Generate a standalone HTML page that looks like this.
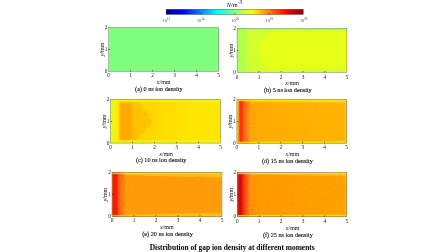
<!DOCTYPE html><html><head><meta charset="utf-8"><title>Distribution of gap ion density at different moments</title>
<style>html,body{margin:0;padding:0;background:#fff;}svg{display:block;}text{font-family:"Liberation Serif",serif;fill:#111;}</style></head><body>
<svg width="448" height="252" viewBox="0 0 448 252">
<defs><linearGradient id="jet" x1="0" x2="1" y1="0" y2="0">
<stop offset="0" stop-color="#000080"/>
<stop offset="0.125" stop-color="#0000ff"/>
<stop offset="0.375" stop-color="#00ffff"/>
<stop offset="0.5" stop-color="#80ff80"/>
<stop offset="0.625" stop-color="#ffff00"/>
<stop offset="0.875" stop-color="#ff0000"/>
<stop offset="1" stop-color="#800000"/>
</linearGradient>
<linearGradient id="fc" x1="0" x2="1" y1="0" y2="0"><stop offset="0" stop-color="#ffd000" stop-opacity="1"/><stop offset="0.5" stop-color="#ffd800" stop-opacity="0.9"/><stop offset="1" stop-color="#ffd800" stop-opacity="0"/></linearGradient>
<linearGradient id="ff" x1="0" x2="1" y1="0" y2="0"><stop offset="0" stop-color="#ff8c00" stop-opacity="0.45"/><stop offset="0.5" stop-color="#ff8c00" stop-opacity="0.25"/><stop offset="1" stop-color="#ff8c00" stop-opacity="0"/></linearGradient>
<linearGradient id="fd" x1="0" x2="1" y1="0" y2="0"><stop offset="0" stop-color="#ffa600" stop-opacity="0.7"/><stop offset="1" stop-color="#ffa600" stop-opacity="0"/></linearGradient>
<filter id="bl" x="-20%" y="-20%" width="140%" height="140%"><feGaussianBlur stdDeviation="0.9"/></filter>
<filter id="bm" x="-20%" y="-20%" width="140%" height="140%"><feGaussianBlur stdDeviation="0.75"/></filter>
<filter id="bb" x="-20%" y="-20%" width="140%" height="140%"><feGaussianBlur stdDeviation="1.4"/></filter>
<filter id="bs" x="-20%" y="-20%" width="140%" height="140%"><feGaussianBlur stdDeviation="0.35"/></filter>
</defs>
<rect width="448" height="252" fill="#fff"/>
<rect x="166.1" y="9.3" width="137.1" height="5.1" fill="url(#jet)" stroke="#1a1a1a" stroke-width="0.35"/>
<text x="234.4" y="6.7" font-size="6.3" text-anchor="middle"><tspan font-style="italic">N</tspan>/m<tspan dy="-2.6" font-size="5.2">-3</tspan></text>
<text x="166.5" y="21.8" font-size="4.2" text-anchor="middle" style="fill:#444">10<tspan dy="-1.7" font-size="3.2">12</tspan></text>
<rect x="200.075" y="13.200000000000001" width="0.6" height="1.2" fill="#222"/>
<text x="200.775" y="21.8" font-size="4.2" text-anchor="middle" style="fill:#444">10<tspan dy="-1.7" font-size="3.2">14</tspan></text>
<rect x="234.34999999999997" y="13.200000000000001" width="0.6" height="1.2" fill="#222"/>
<text x="235.04999999999998" y="21.8" font-size="4.2" text-anchor="middle" style="fill:#444">10<tspan dy="-1.7" font-size="3.2">16</tspan></text>
<rect x="268.62499999999994" y="13.200000000000001" width="0.6" height="1.2" fill="#222"/>
<text x="269.32499999999993" y="21.8" font-size="4.2" text-anchor="middle" style="fill:#444">10<tspan dy="-1.7" font-size="3.2">18</tspan></text>
<text x="303.59999999999997" y="21.8" font-size="4.2" text-anchor="middle" style="fill:#444">10<tspan dy="-1.7" font-size="3.2">20</tspan></text>
<clipPath id="c1"><rect x="108.7" y="27.5" width="109.99999999999999" height="43.900000000000006"/></clipPath>
<rect x="108.7" y="27.5" width="109.99999999999999" height="43.900000000000006" fill="#80ff7e"/>
<g clip-path="url(#c1)">
</g>
<rect x="108.7" y="27.5" width="109.99999999999999" height="43.900000000000006" fill="none" stroke="#505050" stroke-width="0.45" stroke-opacity="0.85"/>
<text x="108.70" y="77.2" font-size="5.3" text-anchor="middle">0</text>
<rect x="130.40" y="70.10000000000001" width="0.6" height="1.3" fill="#222"/>
<text x="130.70" y="77.2" font-size="5.3" text-anchor="middle">1</text>
<rect x="152.40" y="70.10000000000001" width="0.6" height="1.3" fill="#222"/>
<text x="152.70" y="77.2" font-size="5.3" text-anchor="middle">2</text>
<rect x="174.40" y="70.10000000000001" width="0.6" height="1.3" fill="#222"/>
<text x="174.70" y="77.2" font-size="5.3" text-anchor="middle">3</text>
<rect x="196.40" y="70.10000000000001" width="0.6" height="1.3" fill="#222"/>
<text x="196.70" y="77.2" font-size="5.3" text-anchor="middle">4</text>
<text x="218.70" y="77.2" font-size="5.3" text-anchor="middle">5</text>
<text x="107.5" y="73.00" font-size="5.3" text-anchor="end">0</text>
<rect x="108.7" y="49.15" width="1.3" height="0.6" fill="#222"/>
<text x="107.5" y="51.05" font-size="5.3" text-anchor="end">1</text>
<text x="107.5" y="29.10" font-size="5.3" text-anchor="end">2</text>
<text transform="translate(104.10000000000001,49.45) rotate(-90)" font-size="6" text-anchor="middle"><tspan font-style="italic">y</tspan>/mm</text>
<text x="163.7" y="83.9" font-size="6" text-anchor="middle"><tspan font-style="italic">x</tspan>/mm</text>
<text x="158.8" y="91.0" font-size="6.2" text-anchor="middle" stroke="#111" stroke-width="0.12">(a) 0 ns ion density</text>
<clipPath id="c2"><rect x="237.1" y="28.6" width="109.79999999999998" height="43.699999999999996"/></clipPath>
<rect x="237.1" y="28.6" width="109.79999999999998" height="43.699999999999996" fill="#d2ff2e"/>
<g clip-path="url(#c2)">
<g filter="url(#bm)">
<path d="M273.1,31.8 L349.9,30.400000000000002 L349.9,68.7 L271.1,69.5 C255.1,69.3 255.1,32.6 273.1,31.8 Z" fill="#e6ff18"/>
<rect x="234.1" y="25.6" width="12.6" height="49.699999999999996" fill="#b0ff50"/>
</g>
<g filter="url(#bs)">
<rect x="261.0" y="52.1" width="1" height="1" fill="#d2ff2e" opacity="0.8"/>
<rect x="262.1" y="54.4" width="1" height="1" fill="#d2ff2e" opacity="0.8"/>
<rect x="264.1" y="34.1" width="1" height="1" fill="#d2ff2e" opacity="0.8"/>
<rect x="259.2" y="63.2" width="1" height="1" fill="#d2ff2e" opacity="0.8"/>
<rect x="261.2" y="40.4" width="1" height="1" fill="#d2ff2e" opacity="0.8"/>
<rect x="267.1" y="49.3" width="1" height="1" fill="#d2ff2e" opacity="0.8"/>
<rect x="265.8" y="49.6" width="1" height="1" fill="#d2ff2e" opacity="0.8"/>
<rect x="264.2" y="37.3" width="1" height="1" fill="#d2ff2e" opacity="0.8"/>
<rect x="264.2" y="64.3" width="1" height="1" fill="#d2ff2e" opacity="0.8"/>
<rect x="263.3" y="59.5" width="1" height="1" fill="#d2ff2e" opacity="0.8"/>
<rect x="264.5" y="34.0" width="1" height="1" fill="#d2ff2e" opacity="0.8"/>
<rect x="265.2" y="53.9" width="1" height="1" fill="#d2ff2e" opacity="0.8"/>
<rect x="261.5" y="32.8" width="1" height="1" fill="#d2ff2e" opacity="0.8"/>
<rect x="266.0" y="49.4" width="1" height="1" fill="#d2ff2e" opacity="0.8"/>
<rect x="264.9" y="64.7" width="1" height="1" fill="#d2ff2e" opacity="0.8"/>
<rect x="264.8" y="66.3" width="1" height="1" fill="#d2ff2e" opacity="0.8"/>
<rect x="262.3" y="61.8" width="1" height="1" fill="#d2ff2e" opacity="0.8"/>
<rect x="262.7" y="66.9" width="1" height="1" fill="#d2ff2e" opacity="0.8"/>
<rect x="266.1" y="35.3" width="1" height="1" fill="#d2ff2e" opacity="0.8"/>
<rect x="260.2" y="39.8" width="1" height="1" fill="#d2ff2e" opacity="0.8"/>
<rect x="266.8" y="48.0" width="1" height="1" fill="#d2ff2e" opacity="0.8"/>
<rect x="264.1" y="42.9" width="1" height="1" fill="#d2ff2e" opacity="0.8"/>
<rect x="263.2" y="46.1" width="1" height="1" fill="#d2ff2e" opacity="0.8"/>
<rect x="261.9" y="53.7" width="1" height="1" fill="#d2ff2e" opacity="0.8"/>
<rect x="263.8" y="65.7" width="1" height="1" fill="#d2ff2e" opacity="0.8"/>
<rect x="264.6" y="66.6" width="1" height="1" fill="#d2ff2e" opacity="0.8"/>
<rect x="266.0" y="69.0" width="1" height="1" fill="#d2ff2e" opacity="0.8"/>
<rect x="264.5" y="37.7" width="1" height="1" fill="#d2ff2e" opacity="0.8"/>
<rect x="266.0" y="68.0" width="1" height="1" fill="#d2ff2e" opacity="0.8"/>
<rect x="266.3" y="53.1" width="1" height="1" fill="#d2ff2e" opacity="0.8"/>
<rect x="264.8" y="39.6" width="1" height="1" fill="#d2ff2e" opacity="0.8"/>
<rect x="265.8" y="53.2" width="1" height="1" fill="#d2ff2e" opacity="0.8"/>
<rect x="261.4" y="34.0" width="1" height="1" fill="#d2ff2e" opacity="0.8"/>
<rect x="265.9" y="68.9" width="1" height="1" fill="#d2ff2e" opacity="0.8"/>
<rect x="259.8" y="61.8" width="1" height="1" fill="#d2ff2e" opacity="0.8"/>
<rect x="262.4" y="37.3" width="1" height="1" fill="#d2ff2e" opacity="0.8"/>
<rect x="261.5" y="60.6" width="1" height="1" fill="#d2ff2e" opacity="0.8"/>
<rect x="266.1" y="33.3" width="1" height="1" fill="#d2ff2e" opacity="0.8"/>
<rect x="264.0" y="33.3" width="1" height="1" fill="#d2ff2e" opacity="0.8"/>
<rect x="264.8" y="44.1" width="1" height="1" fill="#d2ff2e" opacity="0.8"/>
<rect x="266.1" y="68.6" width="1" height="1" fill="#d2ff2e" opacity="0.8"/>
<rect x="263.1" y="69.2" width="1" height="1" fill="#d2ff2e" opacity="0.8"/>
<rect x="261.6" y="34.5" width="1" height="1" fill="#d2ff2e" opacity="0.8"/>
<rect x="263.9" y="32.8" width="1" height="1" fill="#d2ff2e" opacity="0.8"/>
<rect x="260.7" y="47.0" width="1" height="1" fill="#d2ff2e" opacity="0.8"/>
<rect x="264.0" y="37.5" width="1" height="1" fill="#d2ff2e" opacity="0.8"/>
<rect x="259.4" y="64.3" width="1" height="1" fill="#d2ff2e" opacity="0.8"/>
<rect x="261.6" y="67.7" width="1" height="1" fill="#d2ff2e" opacity="0.8"/>
<rect x="266.3" y="45.8" width="1" height="1" fill="#d2ff2e" opacity="0.8"/>
<rect x="262.8" y="51.2" width="1" height="1" fill="#d2ff2e" opacity="0.8"/>
<rect x="264.3" y="54.1" width="1" height="1" fill="#d2ff2e" opacity="0.8"/>
<rect x="263.6" y="55.0" width="1" height="1" fill="#d2ff2e" opacity="0.8"/>
<rect x="266.6" y="50.7" width="1" height="1" fill="#d2ff2e" opacity="0.8"/>
<rect x="262.5" y="58.8" width="1" height="1" fill="#d2ff2e" opacity="0.8"/>
<rect x="261.0" y="43.0" width="1" height="1" fill="#d2ff2e" opacity="0.8"/>
<rect x="266.9" y="51.2" width="1" height="1" fill="#d2ff2e" opacity="0.8"/>
<rect x="263.5" y="32.0" width="1" height="1" fill="#d2ff2e" opacity="0.8"/>
<rect x="262.4" y="53.5" width="1" height="1" fill="#d2ff2e" opacity="0.8"/>
<rect x="259.3" y="54.8" width="1" height="1" fill="#d2ff2e" opacity="0.8"/>
<rect x="264.2" y="33.9" width="1" height="1" fill="#d2ff2e" opacity="0.8"/>
<rect x="258.2" y="49.5" width="1" height="1" fill="#e6ff18" opacity="0.8"/>
<rect x="258.5" y="46.4" width="1" height="1" fill="#e6ff18" opacity="0.8"/>
<rect x="258.6" y="57.0" width="1" height="1" fill="#e6ff18" opacity="0.8"/>
<rect x="255.2" y="38.3" width="1" height="1" fill="#e6ff18" opacity="0.8"/>
<rect x="258.5" y="63.3" width="1" height="1" fill="#e6ff18" opacity="0.8"/>
<rect x="256.4" y="49.2" width="1" height="1" fill="#e6ff18" opacity="0.8"/>
<rect x="258.1" y="45.5" width="1" height="1" fill="#e6ff18" opacity="0.8"/>
<rect x="256.9" y="45.3" width="1" height="1" fill="#e6ff18" opacity="0.8"/>
<rect x="256.9" y="53.1" width="1" height="1" fill="#e6ff18" opacity="0.8"/>
<rect x="256.6" y="47.0" width="1" height="1" fill="#e6ff18" opacity="0.8"/>
<rect x="259.0" y="37.3" width="1" height="1" fill="#e6ff18" opacity="0.8"/>
<rect x="257.9" y="57.0" width="1" height="1" fill="#e6ff18" opacity="0.8"/>
<rect x="256.7" y="42.8" width="1" height="1" fill="#e6ff18" opacity="0.8"/>
<rect x="259.1" y="43.2" width="1" height="1" fill="#e6ff18" opacity="0.8"/>
<rect x="256.0" y="48.7" width="1" height="1" fill="#e6ff18" opacity="0.8"/>
<rect x="258.6" y="39.4" width="1" height="1" fill="#e6ff18" opacity="0.8"/>
<rect x="256.7" y="45.8" width="1" height="1" fill="#e6ff18" opacity="0.8"/>
<rect x="259.3" y="48.7" width="1" height="1" fill="#e6ff18" opacity="0.8"/>
<rect x="259.4" y="41.3" width="1" height="1" fill="#e6ff18" opacity="0.8"/>
<rect x="256.8" y="54.6" width="1" height="1" fill="#e6ff18" opacity="0.8"/>
<rect x="259.5" y="49.1" width="1" height="1" fill="#e6ff18" opacity="0.8"/>
<rect x="256.2" y="39.9" width="1" height="1" fill="#e6ff18" opacity="0.8"/>
<rect x="257.7" y="41.9" width="1" height="1" fill="#e6ff18" opacity="0.8"/>
<rect x="259.1" y="59.8" width="1" height="1" fill="#e6ff18" opacity="0.8"/>
<rect x="256.0" y="44.3" width="1" height="1" fill="#e6ff18" opacity="0.8"/>
<rect x="259.1" y="54.4" width="1" height="1" fill="#e6ff18" opacity="0.8"/>
<rect x="259.1" y="46.2" width="1" height="1" fill="#e6ff18" opacity="0.8"/>
<rect x="255.7" y="44.7" width="1" height="1" fill="#e6ff18" opacity="0.8"/>
<rect x="259.1" y="44.1" width="1" height="1" fill="#e6ff18" opacity="0.8"/>
<rect x="256.8" y="48.1" width="1" height="1" fill="#e6ff18" opacity="0.8"/>
<rect x="257.2" y="47.9" width="1" height="1" fill="#e6ff18" opacity="0.8"/>
<rect x="259.7" y="40.9" width="1" height="1" fill="#e6ff18" opacity="0.8"/>
<rect x="255.1" y="62.7" width="1" height="1" fill="#e6ff18" opacity="0.8"/>
<rect x="259.5" y="63.9" width="1" height="1" fill="#e6ff18" opacity="0.8"/>
<rect x="257.3" y="62.9" width="1" height="1" fill="#e6ff18" opacity="0.8"/>
<rect x="259.7" y="42.8" width="1" height="1" fill="#e6ff18" opacity="0.8"/>
<rect x="258.8" y="59.8" width="1" height="1" fill="#e6ff18" opacity="0.8"/>
<rect x="258.4" y="51.0" width="1" height="1" fill="#e6ff18" opacity="0.8"/>
<rect x="256.5" y="46.0" width="1" height="1" fill="#e6ff18" opacity="0.8"/>
<rect x="256.2" y="38.5" width="1" height="1" fill="#e6ff18" opacity="0.8"/>
<rect x="247.9" y="41.6" width="1" height="1" fill="#b0ff50" opacity="0.8"/>
<rect x="248.5" y="31.5" width="1" height="1" fill="#b0ff50" opacity="0.8"/>
<rect x="248.8" y="58.5" width="1" height="1" fill="#b0ff50" opacity="0.8"/>
<rect x="248.9" y="67.0" width="1" height="1" fill="#b0ff50" opacity="0.8"/>
<rect x="248.8" y="53.7" width="1" height="1" fill="#b0ff50" opacity="0.8"/>
<rect x="246.1" y="60.7" width="1" height="1" fill="#b0ff50" opacity="0.8"/>
<rect x="246.6" y="42.1" width="1" height="1" fill="#b0ff50" opacity="0.8"/>
<rect x="248.1" y="51.5" width="1" height="1" fill="#b0ff50" opacity="0.8"/>
<rect x="247.3" y="68.8" width="1" height="1" fill="#b0ff50" opacity="0.8"/>
<rect x="247.9" y="43.8" width="1" height="1" fill="#b0ff50" opacity="0.8"/>
<rect x="246.9" y="65.5" width="1" height="1" fill="#b0ff50" opacity="0.8"/>
<rect x="247.5" y="62.2" width="1" height="1" fill="#b0ff50" opacity="0.8"/>
<rect x="247.2" y="37.8" width="1" height="1" fill="#b0ff50" opacity="0.8"/>
<rect x="247.7" y="63.7" width="1" height="1" fill="#b0ff50" opacity="0.8"/>
<rect x="246.6" y="62.6" width="1" height="1" fill="#b0ff50" opacity="0.8"/>
<rect x="248.9" y="63.2" width="1" height="1" fill="#b0ff50" opacity="0.8"/>
<rect x="248.6" y="29.9" width="1" height="1" fill="#b0ff50" opacity="0.8"/>
<rect x="248.0" y="65.6" width="1" height="1" fill="#b0ff50" opacity="0.8"/>
<rect x="246.2" y="40.9" width="1" height="1" fill="#b0ff50" opacity="0.8"/>
<rect x="246.9" y="51.6" width="1" height="1" fill="#b0ff50" opacity="0.8"/>
<rect x="247.4" y="49.3" width="1" height="1" fill="#b0ff50" opacity="0.8"/>
<rect x="248.4" y="29.7" width="1" height="1" fill="#b0ff50" opacity="0.8"/>
<rect x="246.3" y="34.9" width="1" height="1" fill="#b0ff50" opacity="0.8"/>
<rect x="246.5" y="32.5" width="1" height="1" fill="#b0ff50" opacity="0.8"/>
<rect x="249.0" y="65.2" width="1" height="1" fill="#b0ff50" opacity="0.8"/>
<rect x="246.4" y="50.5" width="1" height="1" fill="#b0ff50" opacity="0.8"/>
<rect x="247.0" y="42.7" width="1" height="1" fill="#b0ff50" opacity="0.8"/>
<rect x="247.2" y="56.6" width="1" height="1" fill="#b0ff50" opacity="0.8"/>
<rect x="247.9" y="44.6" width="1" height="1" fill="#b0ff50" opacity="0.8"/>
<rect x="246.7" y="43.3" width="1" height="1" fill="#b0ff50" opacity="0.8"/>
<rect x="244.4" y="52.8" width="1" height="1" fill="#d2ff2e" opacity="0.8"/>
<rect x="246.0" y="45.5" width="1" height="1" fill="#d2ff2e" opacity="0.8"/>
<rect x="244.3" y="37.0" width="1" height="1" fill="#d2ff2e" opacity="0.8"/>
<rect x="245.1" y="54.8" width="1" height="1" fill="#d2ff2e" opacity="0.8"/>
<rect x="246.1" y="45.5" width="1" height="1" fill="#d2ff2e" opacity="0.8"/>
<rect x="246.2" y="55.6" width="1" height="1" fill="#d2ff2e" opacity="0.8"/>
<rect x="245.2" y="45.1" width="1" height="1" fill="#d2ff2e" opacity="0.8"/>
<rect x="245.4" y="58.9" width="1" height="1" fill="#d2ff2e" opacity="0.8"/>
<rect x="245.2" y="58.5" width="1" height="1" fill="#d2ff2e" opacity="0.8"/>
<rect x="245.3" y="39.8" width="1" height="1" fill="#d2ff2e" opacity="0.8"/>
<rect x="245.5" y="58.6" width="1" height="1" fill="#d2ff2e" opacity="0.8"/>
<rect x="244.3" y="47.3" width="1" height="1" fill="#d2ff2e" opacity="0.8"/>
<rect x="245.2" y="66.3" width="1" height="1" fill="#d2ff2e" opacity="0.8"/>
<rect x="246.5" y="45.2" width="1" height="1" fill="#d2ff2e" opacity="0.8"/>
<rect x="246.4" y="62.6" width="1" height="1" fill="#d2ff2e" opacity="0.8"/>
<rect x="244.8" y="49.0" width="1" height="1" fill="#d2ff2e" opacity="0.8"/>
<rect x="244.4" y="63.5" width="1" height="1" fill="#d2ff2e" opacity="0.8"/>
<rect x="245.8" y="66.6" width="1" height="1" fill="#d2ff2e" opacity="0.8"/>
<rect x="246.2" y="57.4" width="1" height="1" fill="#d2ff2e" opacity="0.8"/>
<rect x="246.0" y="53.1" width="1" height="1" fill="#d2ff2e" opacity="0.8"/>
</g>
<rect x="237.1" y="28.6" width="109.79999999999998" height="1.5" fill="#a0ff60" opacity="0.8"/>
</g>
<rect x="237.1" y="28.6" width="109.79999999999998" height="43.699999999999996" fill="none" stroke="#505050" stroke-width="0.45" stroke-opacity="0.85"/>
<text x="237.10" y="78.6" font-size="5.3" text-anchor="middle">0</text>
<rect x="258.76" y="71.0" width="0.6" height="1.3" fill="#222"/>
<text x="259.06" y="78.6" font-size="5.3" text-anchor="middle">1</text>
<rect x="280.72" y="71.0" width="0.6" height="1.3" fill="#222"/>
<text x="281.02" y="78.6" font-size="5.3" text-anchor="middle">2</text>
<rect x="302.68" y="71.0" width="0.6" height="1.3" fill="#222"/>
<text x="302.98" y="78.6" font-size="5.3" text-anchor="middle">3</text>
<rect x="324.64" y="71.0" width="0.6" height="1.3" fill="#222"/>
<text x="324.94" y="78.6" font-size="5.3" text-anchor="middle">4</text>
<text x="346.90" y="78.6" font-size="5.3" text-anchor="middle">5</text>
<text x="235.9" y="73.90" font-size="5.3" text-anchor="end">0</text>
<rect x="237.1" y="50.15" width="1.3" height="0.6" fill="#222"/>
<text x="235.9" y="52.05" font-size="5.3" text-anchor="end">1</text>
<text x="235.9" y="30.20" font-size="5.3" text-anchor="end">2</text>
<text transform="translate(232.5,50.45) rotate(-90)" font-size="6" text-anchor="middle"><tspan font-style="italic">y</tspan>/mm</text>
<text x="292" y="85.0" font-size="6" text-anchor="middle"><tspan font-style="italic">x</tspan>/mm</text>
<text x="287.8" y="91.9" font-size="6.2" text-anchor="middle" stroke="#111" stroke-width="0.12">(b) 5 ns ion density</text>
<clipPath id="c3"><rect x="110.7" y="99.5" width="109.89999999999999" height="43.599999999999994"/></clipPath>
<rect x="110.7" y="99.5" width="109.89999999999999" height="43.599999999999994" fill="#ffe600"/>
<g clip-path="url(#c3)">
<g filter="url(#bl)">
<rect x="118.7" y="96.5" width="75" height="49.599999999999994" fill="url(#fc)"/>
<rect x="107.7" y="96.5" width="6" height="49.599999999999994" fill="#d8ff28"/>
<rect x="113.7" y="96.5" width="6" height="49.599999999999994" fill="#ffee00"/>
<path d="M119.3,102.0 L137.7,103.0 L144.7,109.5 L150.7,116.5 L151.7,123.5 L143.7,132.5 L136.7,140.6 L119.3,141.1 Z" fill="#ffc000"/>
<rect x="119.3" y="102.5" width="12.2" height="38.39999999999999" rx="2.5" fill="#ffa800"/>
</g>
<g filter="url(#bs)">
<rect x="146.1" y="123.7" width="1" height="1" fill="#ffd000" opacity="0.8"/>
<rect x="144.8" y="111.5" width="1" height="1" fill="#ffd000" opacity="0.8"/>
<rect x="155.5" y="108.7" width="1" height="1" fill="#ffd000" opacity="0.8"/>
<rect x="146.0" y="110.2" width="1" height="1" fill="#ffd000" opacity="0.8"/>
<rect x="157.0" y="112.4" width="1" height="1" fill="#ffd000" opacity="0.8"/>
<rect x="145.0" y="130.7" width="1" height="1" fill="#ffd000" opacity="0.8"/>
<rect x="146.4" y="130.8" width="1" height="1" fill="#ffd000" opacity="0.8"/>
<rect x="154.1" y="130.6" width="1" height="1" fill="#ffd000" opacity="0.8"/>
<rect x="158.0" y="123.5" width="1" height="1" fill="#ffd000" opacity="0.8"/>
<rect x="155.9" y="108.5" width="1" height="1" fill="#ffd000" opacity="0.8"/>
<rect x="155.4" y="121.6" width="1" height="1" fill="#ffd000" opacity="0.8"/>
<rect x="154.7" y="110.4" width="1" height="1" fill="#ffd000" opacity="0.8"/>
<rect x="155.2" y="133.3" width="1" height="1" fill="#ffd000" opacity="0.8"/>
<rect x="145.6" y="116.4" width="1" height="1" fill="#ffd000" opacity="0.8"/>
<rect x="152.6" y="130.4" width="1" height="1" fill="#ffd000" opacity="0.8"/>
<rect x="148.1" y="112.5" width="1" height="1" fill="#ffd000" opacity="0.8"/>
<rect x="148.2" y="124.5" width="1" height="1" fill="#ffd000" opacity="0.8"/>
<rect x="155.2" y="118.4" width="1" height="1" fill="#ffd000" opacity="0.8"/>
<rect x="149.8" y="118.4" width="1" height="1" fill="#ffd000" opacity="0.8"/>
<rect x="149.6" y="119.0" width="1" height="1" fill="#ffd000" opacity="0.8"/>
<rect x="145.9" y="121.3" width="1" height="1" fill="#ffd000" opacity="0.8"/>
<rect x="158.3" y="118.9" width="1" height="1" fill="#ffd000" opacity="0.8"/>
<rect x="155.2" y="111.9" width="1" height="1" fill="#ffd000" opacity="0.8"/>
<rect x="154.4" y="128.4" width="1" height="1" fill="#ffd000" opacity="0.8"/>
<rect x="154.1" y="121.8" width="1" height="1" fill="#ffd000" opacity="0.8"/>
<rect x="151.5" y="125.2" width="1" height="1" fill="#ffd000" opacity="0.8"/>
<rect x="157.3" y="111.6" width="1" height="1" fill="#ffd000" opacity="0.8"/>
<rect x="146.0" y="128.1" width="1" height="1" fill="#ffd000" opacity="0.8"/>
<rect x="157.5" y="121.8" width="1" height="1" fill="#ffd000" opacity="0.8"/>
<rect x="150.9" y="127.3" width="1" height="1" fill="#ffd000" opacity="0.8"/>
<rect x="147.3" y="114.9" width="1" height="1" fill="#ffd000" opacity="0.8"/>
<rect x="147.5" y="123.7" width="1" height="1" fill="#ffd000" opacity="0.8"/>
<rect x="149.1" y="113.9" width="1" height="1" fill="#ffd000" opacity="0.8"/>
<rect x="154.4" y="133.8" width="1" height="1" fill="#ffd000" opacity="0.8"/>
<rect x="148.8" y="127.0" width="1" height="1" fill="#ffd000" opacity="0.8"/>
<rect x="150.5" y="131.1" width="1" height="1" fill="#ffd000" opacity="0.8"/>
<rect x="152.9" y="114.9" width="1" height="1" fill="#ffd000" opacity="0.8"/>
<rect x="147.7" y="108.1" width="1" height="1" fill="#ffd000" opacity="0.8"/>
<rect x="151.4" y="118.1" width="1" height="1" fill="#ffd000" opacity="0.8"/>
<rect x="147.1" y="117.4" width="1" height="1" fill="#ffd000" opacity="0.8"/>
<rect x="149.2" y="128.9" width="1" height="1" fill="#ffd000" opacity="0.8"/>
<rect x="146.7" y="134.9" width="1" height="1" fill="#ffd000" opacity="0.8"/>
<rect x="151.4" y="124.0" width="1" height="1" fill="#ffd000" opacity="0.8"/>
<rect x="151.3" y="130.5" width="1" height="1" fill="#ffd000" opacity="0.8"/>
<rect x="156.2" y="122.9" width="1" height="1" fill="#ffd000" opacity="0.8"/>
<rect x="151.4" y="127.4" width="1" height="1" fill="#ffd000" opacity="0.8"/>
<rect x="156.7" y="118.5" width="1" height="1" fill="#ffd000" opacity="0.8"/>
<rect x="155.0" y="134.0" width="1" height="1" fill="#ffd000" opacity="0.8"/>
<rect x="151.2" y="113.8" width="1" height="1" fill="#ffd000" opacity="0.8"/>
<rect x="148.0" y="127.3" width="1" height="1" fill="#ffd000" opacity="0.8"/>
<rect x="147.5" y="138.5" width="1" height="1" fill="#ffe200" opacity="0.7"/>
<rect x="149.8" y="111.6" width="1" height="1" fill="#ffe200" opacity="0.7"/>
<rect x="141.2" y="112.2" width="1" height="1" fill="#ffe200" opacity="0.7"/>
<rect x="141.1" y="129.0" width="1" height="1" fill="#ffe200" opacity="0.7"/>
<rect x="149.9" y="136.3" width="1" height="1" fill="#ffe200" opacity="0.7"/>
<rect x="142.0" y="135.0" width="1" height="1" fill="#ffe200" opacity="0.7"/>
<rect x="142.8" y="118.4" width="1" height="1" fill="#ffe200" opacity="0.7"/>
<rect x="148.2" y="105.7" width="1" height="1" fill="#ffe200" opacity="0.7"/>
<rect x="139.9" y="133.9" width="1" height="1" fill="#ffe200" opacity="0.7"/>
<rect x="142.5" y="115.9" width="1" height="1" fill="#ffe200" opacity="0.7"/>
<rect x="146.2" y="127.9" width="1" height="1" fill="#ffe200" opacity="0.7"/>
<rect x="138.8" y="115.1" width="1" height="1" fill="#ffe200" opacity="0.7"/>
<rect x="144.4" y="120.8" width="1" height="1" fill="#ffe200" opacity="0.7"/>
<rect x="141.4" y="124.5" width="1" height="1" fill="#ffe200" opacity="0.7"/>
<rect x="151.1" y="117.2" width="1" height="1" fill="#ffe200" opacity="0.7"/>
<rect x="145.8" y="107.0" width="1" height="1" fill="#ffe200" opacity="0.7"/>
<rect x="142.3" y="127.5" width="1" height="1" fill="#ffe200" opacity="0.7"/>
<rect x="140.2" y="135.9" width="1" height="1" fill="#ffe200" opacity="0.7"/>
<rect x="150.5" y="106.1" width="1" height="1" fill="#ffe200" opacity="0.7"/>
<rect x="150.9" y="116.6" width="1" height="1" fill="#ffe200" opacity="0.7"/>
<rect x="148.7" y="131.0" width="1" height="1" fill="#ffe200" opacity="0.7"/>
<rect x="142.5" y="127.9" width="1" height="1" fill="#ffe200" opacity="0.7"/>
<rect x="147.2" y="132.8" width="1" height="1" fill="#ffe200" opacity="0.7"/>
<rect x="142.2" y="130.9" width="1" height="1" fill="#ffe200" opacity="0.7"/>
<rect x="151.2" y="127.8" width="1" height="1" fill="#ffe200" opacity="0.7"/>
<rect x="145.7" y="106.8" width="1" height="1" fill="#ffe200" opacity="0.7"/>
<rect x="145.1" y="115.7" width="1" height="1" fill="#ffe200" opacity="0.7"/>
<rect x="148.0" y="128.0" width="1" height="1" fill="#ffe200" opacity="0.7"/>
<rect x="146.1" y="109.3" width="1" height="1" fill="#ffe200" opacity="0.7"/>
<rect x="147.1" y="126.2" width="1" height="1" fill="#ffe200" opacity="0.7"/>
<rect x="141.0" y="136.0" width="1" height="1" fill="#ffe200" opacity="0.7"/>
<rect x="147.2" y="107.1" width="1" height="1" fill="#ffe200" opacity="0.7"/>
<rect x="150.8" y="107.8" width="1" height="1" fill="#ffe200" opacity="0.7"/>
<rect x="143.0" y="129.6" width="1" height="1" fill="#ffe200" opacity="0.7"/>
<rect x="146.5" y="123.4" width="1" height="1" fill="#ffe200" opacity="0.7"/>
<rect x="147.1" y="119.7" width="1" height="1" fill="#ffe200" opacity="0.7"/>
<rect x="142.8" y="109.1" width="1" height="1" fill="#ffe200" opacity="0.7"/>
<rect x="139.6" y="129.4" width="1" height="1" fill="#ffe200" opacity="0.7"/>
<rect x="148.5" y="122.9" width="1" height="1" fill="#ffe200" opacity="0.7"/>
<rect x="148.3" y="116.0" width="1" height="1" fill="#ffe200" opacity="0.7"/>
<rect x="171.0" y="116.9" width="1" height="1" fill="#ffd800" opacity="0.7"/>
<rect x="183.2" y="104.1" width="1" height="1" fill="#ffd800" opacity="0.7"/>
<rect x="175.8" y="111.8" width="1" height="1" fill="#ffd800" opacity="0.7"/>
<rect x="181.1" y="115.8" width="1" height="1" fill="#ffd800" opacity="0.7"/>
<rect x="172.4" y="117.7" width="1" height="1" fill="#ffd800" opacity="0.7"/>
<rect x="176.5" y="131.5" width="1" height="1" fill="#ffd800" opacity="0.7"/>
<rect x="172.8" y="134.3" width="1" height="1" fill="#ffd800" opacity="0.7"/>
<rect x="167.9" y="112.7" width="1" height="1" fill="#ffd800" opacity="0.7"/>
<rect x="167.7" y="106.7" width="1" height="1" fill="#ffd800" opacity="0.7"/>
<rect x="181.3" y="129.8" width="1" height="1" fill="#ffd800" opacity="0.7"/>
<rect x="169.4" y="109.6" width="1" height="1" fill="#ffd800" opacity="0.7"/>
<rect x="174.0" y="130.4" width="1" height="1" fill="#ffd800" opacity="0.7"/>
<rect x="182.0" y="130.7" width="1" height="1" fill="#ffd800" opacity="0.7"/>
<rect x="177.5" y="108.0" width="1" height="1" fill="#ffd800" opacity="0.7"/>
<rect x="173.7" y="109.8" width="1" height="1" fill="#ffd800" opacity="0.7"/>
<rect x="176.3" y="123.9" width="1" height="1" fill="#ffd800" opacity="0.7"/>
<rect x="169.7" y="111.9" width="1" height="1" fill="#ffd800" opacity="0.7"/>
<rect x="181.3" y="103.6" width="1" height="1" fill="#ffd800" opacity="0.7"/>
<rect x="181.8" y="136.0" width="1" height="1" fill="#ffd800" opacity="0.7"/>
<rect x="184.7" y="116.9" width="1" height="1" fill="#ffd800" opacity="0.7"/>
<rect x="176.8" y="124.4" width="1" height="1" fill="#ffd800" opacity="0.7"/>
<rect x="178.4" y="139.2" width="1" height="1" fill="#ffd800" opacity="0.7"/>
<rect x="179.4" y="113.8" width="1" height="1" fill="#ffd800" opacity="0.7"/>
<rect x="182.9" y="120.7" width="1" height="1" fill="#ffd800" opacity="0.7"/>
<rect x="177.7" y="129.8" width="1" height="1" fill="#ffd800" opacity="0.7"/>
<rect x="165.7" y="131.5" width="1" height="1" fill="#ffd800" opacity="0.7"/>
<rect x="178.9" y="121.0" width="1" height="1" fill="#ffd800" opacity="0.7"/>
<rect x="176.2" y="119.8" width="1" height="1" fill="#ffd800" opacity="0.7"/>
<rect x="169.6" y="122.4" width="1" height="1" fill="#ffd800" opacity="0.7"/>
<rect x="166.4" y="121.3" width="1" height="1" fill="#ffd800" opacity="0.7"/>
<rect x="178.6" y="119.2" width="1" height="1" fill="#ffd800" opacity="0.7"/>
<rect x="177.0" y="138.6" width="1" height="1" fill="#ffd800" opacity="0.7"/>
<rect x="183.5" y="107.6" width="1" height="1" fill="#ffd800" opacity="0.7"/>
<rect x="181.5" y="125.9" width="1" height="1" fill="#ffd800" opacity="0.7"/>
<rect x="166.7" y="116.0" width="1" height="1" fill="#ffd800" opacity="0.7"/>
<rect x="170.4" y="105.4" width="1" height="1" fill="#ffd800" opacity="0.7"/>
<rect x="176.5" y="137.5" width="1" height="1" fill="#ffd800" opacity="0.7"/>
<rect x="172.2" y="135.2" width="1" height="1" fill="#ffd800" opacity="0.7"/>
<rect x="179.6" y="107.6" width="1" height="1" fill="#ffd800" opacity="0.7"/>
<rect x="182.9" y="125.1" width="1" height="1" fill="#ffd800" opacity="0.7"/>
<rect x="184.2" y="129.4" width="1" height="1" fill="#ffd800" opacity="0.7"/>
<rect x="180.5" y="115.4" width="1" height="1" fill="#ffd800" opacity="0.7"/>
<rect x="181.8" y="137.5" width="1" height="1" fill="#ffd800" opacity="0.7"/>
<rect x="182.9" y="118.9" width="1" height="1" fill="#ffd800" opacity="0.7"/>
<rect x="180.8" y="120.7" width="1" height="1" fill="#ffd800" opacity="0.7"/>
<rect x="167.9" y="104.1" width="1" height="1" fill="#ffd800" opacity="0.7"/>
<rect x="167.3" y="110.0" width="1" height="1" fill="#ffd800" opacity="0.7"/>
<rect x="168.9" y="121.2" width="1" height="1" fill="#ffd800" opacity="0.7"/>
<rect x="179.7" y="122.7" width="1" height="1" fill="#ffd800" opacity="0.7"/>
<rect x="174.1" y="126.9" width="1" height="1" fill="#ffd800" opacity="0.7"/>
<rect x="171.8" y="120.0" width="1" height="1" fill="#ffd800" opacity="0.7"/>
<rect x="180.8" y="117.6" width="1" height="1" fill="#ffd800" opacity="0.7"/>
<rect x="169.3" y="136.3" width="1" height="1" fill="#ffd800" opacity="0.7"/>
<rect x="180.1" y="116.3" width="1" height="1" fill="#ffd800" opacity="0.7"/>
<rect x="173.1" y="122.4" width="1" height="1" fill="#ffd800" opacity="0.7"/>
<rect x="177.6" y="110.9" width="1" height="1" fill="#ffd800" opacity="0.7"/>
<rect x="165.8" y="110.4" width="1" height="1" fill="#ffd800" opacity="0.7"/>
<rect x="181.4" y="107.9" width="1" height="1" fill="#ffd800" opacity="0.7"/>
<rect x="174.9" y="109.8" width="1" height="1" fill="#ffd800" opacity="0.7"/>
<rect x="169.9" y="108.9" width="1" height="1" fill="#ffd800" opacity="0.7"/>
</g>
<rect x="110.7" y="99.5" width="109.89999999999999" height="2.4" fill="#fff200" opacity="0.8"/>
<rect x="110.7" y="140.1" width="109.89999999999999" height="3.0" fill="#fff200" opacity="0.8"/>
<rect x="110.7" y="99.5" width="109.89999999999999" height="0.9" fill="#c8ff20" opacity="0.8"/>
<rect x="110.7" y="142.29999999999998" width="109.89999999999999" height="0.8" fill="#c8ff20" opacity="0.8"/>
</g>
<rect x="110.7" y="99.5" width="109.89999999999999" height="43.599999999999994" fill="none" stroke="#505050" stroke-width="0.45" stroke-opacity="0.85"/>
<text x="110.70" y="148.9" font-size="5.3" text-anchor="middle">0</text>
<rect x="132.38" y="141.79999999999998" width="0.6" height="1.3" fill="#222"/>
<text x="132.68" y="148.9" font-size="5.3" text-anchor="middle">1</text>
<rect x="154.36" y="141.79999999999998" width="0.6" height="1.3" fill="#222"/>
<text x="154.66" y="148.9" font-size="5.3" text-anchor="middle">2</text>
<rect x="176.34" y="141.79999999999998" width="0.6" height="1.3" fill="#222"/>
<text x="176.64" y="148.9" font-size="5.3" text-anchor="middle">3</text>
<rect x="198.32" y="141.79999999999998" width="0.6" height="1.3" fill="#222"/>
<text x="198.62" y="148.9" font-size="5.3" text-anchor="middle">4</text>
<text x="220.60" y="148.9" font-size="5.3" text-anchor="middle">5</text>
<text x="109.5" y="144.70" font-size="5.3" text-anchor="end">0</text>
<rect x="110.7" y="121.00" width="1.3" height="0.6" fill="#222"/>
<text x="109.5" y="122.90" font-size="5.3" text-anchor="end">1</text>
<text x="109.5" y="101.10" font-size="5.3" text-anchor="end">2</text>
<text transform="translate(106.10000000000001,121.3) rotate(-90)" font-size="6" text-anchor="middle"><tspan font-style="italic">y</tspan>/mm</text>
<text x="166.2" y="156.2" font-size="6" text-anchor="middle"><tspan font-style="italic">x</tspan>/mm</text>
<text x="161.2" y="162.1" font-size="6.2" text-anchor="middle" stroke="#111" stroke-width="0.12">(c) 10 ns ion density</text>
<linearGradient id="g1" gradientUnits="userSpaceOnUse" x1="236.9" x2="253.9" y1="0" y2="0"><stop offset="0.000" stop-color="#ffd800"/><stop offset="0.065" stop-color="#ffc400"/><stop offset="0.135" stop-color="#ff5c10"/><stop offset="0.200" stop-color="#ff3010"/><stop offset="0.306" stop-color="#ff3410"/><stop offset="0.382" stop-color="#ff5a10"/><stop offset="0.529" stop-color="#ff7c14"/><stop offset="0.735" stop-color="#ff9418"/><stop offset="1.000" stop-color="#ffb200" stop-opacity="0"/></linearGradient>
<clipPath id="c4"><rect x="236.9" y="99.7" width="109.70000000000002" height="43.499999999999986"/></clipPath>
<rect x="236.9" y="99.7" width="109.70000000000002" height="43.499999999999986" fill="#ffb200"/>
<g clip-path="url(#c4)">
<g filter="url(#bm)">
<rect x="248.9" y="103.7" width="70" height="36.499999999999986" fill="url(#fd)"/>
<path d="M236.9,96.7 L349.6,96.7 L349.6,103.10000000000001 L236.9,101.5 Z" fill="#ffcc20"/>
<path d="M236.9,146.2 L349.6,146.2 L349.6,140.6 L236.9,142.0 Z" fill="#ffc820"/>
<rect x="345.1" y="99.7" width="4" height="43.499999999999986" fill="#ffd020"/>
<rect x="233.9" y="96.7" width="20" height="49.499999999999986" fill="url(#g1)"/>
</g>
<g filter="url(#bs)">
<rect x="268.1" y="109.0" width="1" height="1" fill="#ff9c00" opacity="0.7"/>
<rect x="253.0" y="106.8" width="1" height="1" fill="#ff9c00" opacity="0.7"/>
<rect x="255.5" y="121.1" width="1" height="1" fill="#ff9c00" opacity="0.7"/>
<rect x="253.2" y="103.5" width="1" height="1" fill="#ff9c00" opacity="0.7"/>
<rect x="271.6" y="118.0" width="1" height="1" fill="#ff9c00" opacity="0.7"/>
<rect x="298.9" y="104.6" width="1" height="1" fill="#ff9c00" opacity="0.7"/>
<rect x="268.0" y="117.6" width="1" height="1" fill="#ff9c00" opacity="0.7"/>
<rect x="253.0" y="138.9" width="1" height="1" fill="#ff9c00" opacity="0.7"/>
<rect x="257.4" y="106.2" width="1" height="1" fill="#ff9c00" opacity="0.7"/>
<rect x="273.8" y="108.9" width="1" height="1" fill="#ff9c00" opacity="0.7"/>
<rect x="288.9" y="115.7" width="1" height="1" fill="#ff9c00" opacity="0.7"/>
<rect x="254.3" y="104.6" width="1" height="1" fill="#ff9c00" opacity="0.7"/>
<rect x="302.1" y="113.0" width="1" height="1" fill="#ff9c00" opacity="0.7"/>
<rect x="310.6" y="120.2" width="1" height="1" fill="#ff9c00" opacity="0.7"/>
<rect x="333.8" y="114.0" width="1" height="1" fill="#ff9c00" opacity="0.7"/>
<rect x="258.7" y="112.7" width="1" height="1" fill="#ff9c00" opacity="0.7"/>
<rect x="314.6" y="126.3" width="1" height="1" fill="#ff9c00" opacity="0.7"/>
<rect x="264.0" y="106.2" width="1" height="1" fill="#ff9c00" opacity="0.7"/>
<rect x="296.2" y="139.0" width="1" height="1" fill="#ff9c00" opacity="0.7"/>
<rect x="285.5" y="102.8" width="1" height="1" fill="#ff9c00" opacity="0.7"/>
<rect x="253.0" y="106.1" width="1" height="1" fill="#ff9c00" opacity="0.7"/>
<rect x="255.6" y="104.1" width="1" height="1" fill="#ff9c00" opacity="0.7"/>
<rect x="253.2" y="127.2" width="1" height="1" fill="#ff9c00" opacity="0.7"/>
<rect x="328.3" y="110.2" width="1" height="1" fill="#ff9c00" opacity="0.7"/>
<rect x="341.1" y="120.6" width="1" height="1" fill="#ff9c00" opacity="0.7"/>
<rect x="313.0" y="137.1" width="1" height="1" fill="#ff9c00" opacity="0.7"/>
<rect x="335.1" y="104.0" width="1" height="1" fill="#ff9c00" opacity="0.7"/>
<rect x="261.5" y="125.5" width="1" height="1" fill="#ff9c00" opacity="0.7"/>
<rect x="336.2" y="106.0" width="1" height="1" fill="#ff9c00" opacity="0.7"/>
<rect x="260.9" y="134.6" width="1" height="1" fill="#ff9c00" opacity="0.7"/>
<rect x="254.1" y="117.3" width="1" height="1" fill="#ff9c00" opacity="0.7"/>
<rect x="263.3" y="128.2" width="1" height="1" fill="#ff9c00" opacity="0.7"/>
<rect x="333.1" y="109.2" width="1" height="1" fill="#ff9c00" opacity="0.7"/>
<rect x="303.8" y="130.2" width="1" height="1" fill="#ff9c00" opacity="0.7"/>
<rect x="317.8" y="123.5" width="1" height="1" fill="#ff9c00" opacity="0.7"/>
<rect x="332.2" y="116.3" width="1" height="1" fill="#ff9c00" opacity="0.7"/>
<rect x="268.9" y="111.3" width="1" height="1" fill="#ff9c00" opacity="0.7"/>
<rect x="309.4" y="120.7" width="1" height="1" fill="#ff9c00" opacity="0.7"/>
<rect x="259.7" y="109.1" width="1" height="1" fill="#ff9c00" opacity="0.7"/>
<rect x="301.2" y="125.4" width="1" height="1" fill="#ff9c00" opacity="0.7"/>
<rect x="299.9" y="117.2" width="1" height="1" fill="#ff9c00" opacity="0.7"/>
<rect x="275.0" y="108.5" width="1" height="1" fill="#ff9c00" opacity="0.7"/>
<rect x="299.9" y="103.6" width="1" height="1" fill="#ff9c00" opacity="0.7"/>
<rect x="273.2" y="131.1" width="1" height="1" fill="#ff9c00" opacity="0.7"/>
<rect x="295.6" y="106.3" width="1" height="1" fill="#ff9c00" opacity="0.7"/>
<rect x="258.1" y="134.3" width="1" height="1" fill="#ff9c00" opacity="0.7"/>
<rect x="291.3" y="135.6" width="1" height="1" fill="#ff9c00" opacity="0.7"/>
<rect x="323.7" y="119.6" width="1" height="1" fill="#ff9c00" opacity="0.7"/>
<rect x="327.7" y="130.2" width="1" height="1" fill="#ff9c00" opacity="0.7"/>
<rect x="263.3" y="116.6" width="1" height="1" fill="#ff9c00" opacity="0.7"/>
<rect x="253.4" y="117.7" width="1" height="1" fill="#ff9c00" opacity="0.7"/>
<rect x="337.8" y="106.6" width="1" height="1" fill="#ff9c00" opacity="0.7"/>
<rect x="283.0" y="106.8" width="1" height="1" fill="#ff9c00" opacity="0.7"/>
<rect x="253.5" y="127.0" width="1" height="1" fill="#ff9c00" opacity="0.7"/>
<rect x="258.3" y="104.5" width="1" height="1" fill="#ff9c00" opacity="0.7"/>
<rect x="255.1" y="126.9" width="1" height="1" fill="#ff9c00" opacity="0.7"/>
<rect x="284.8" y="103.1" width="1" height="1" fill="#ff9c00" opacity="0.7"/>
<rect x="257.8" y="139.0" width="1" height="1" fill="#ff9c00" opacity="0.7"/>
<rect x="257.4" y="123.8" width="1" height="1" fill="#ff9c00" opacity="0.7"/>
<rect x="269.3" y="132.0" width="1" height="1" fill="#ff9c00" opacity="0.7"/>
<rect x="286.9" y="132.3" width="1" height="1" fill="#ff9c00" opacity="0.7"/>
<rect x="279.5" y="109.8" width="1" height="1" fill="#ff9c00" opacity="0.7"/>
<rect x="255.8" y="105.7" width="1" height="1" fill="#ff9c00" opacity="0.7"/>
<rect x="316.3" y="106.9" width="1" height="1" fill="#ff9c00" opacity="0.7"/>
<rect x="253.0" y="138.9" width="1" height="1" fill="#ff9c00" opacity="0.7"/>
<rect x="256.6" y="136.2" width="1" height="1" fill="#ff9c00" opacity="0.7"/>
<rect x="253.6" y="120.1" width="1" height="1" fill="#ff9c00" opacity="0.7"/>
<rect x="257.5" y="133.8" width="1" height="1" fill="#ff9c00" opacity="0.7"/>
<rect x="288.1" y="126.8" width="1" height="1" fill="#ff9c00" opacity="0.7"/>
<rect x="306.8" y="135.4" width="1" height="1" fill="#ff9c00" opacity="0.7"/>
<rect x="264.0" y="125.3" width="1" height="1" fill="#ff9c00" opacity="0.7"/>
<rect x="271.4" y="106.9" width="1" height="1" fill="#ff9c00" opacity="0.7"/>
<rect x="317.8" y="125.0" width="1" height="1" fill="#ff9c00" opacity="0.7"/>
<rect x="314.6" y="110.4" width="1" height="1" fill="#ff9c00" opacity="0.7"/>
<rect x="279.9" y="120.1" width="1" height="1" fill="#ff9c00" opacity="0.7"/>
<rect x="302.2" y="105.6" width="1" height="1" fill="#ff9c00" opacity="0.7"/>
<rect x="264.0" y="120.9" width="1" height="1" fill="#ff9c00" opacity="0.7"/>
<rect x="253.4" y="123.4" width="1" height="1" fill="#ff9c00" opacity="0.7"/>
<rect x="303.2" y="118.6" width="1" height="1" fill="#ff9c00" opacity="0.7"/>
<rect x="292.0" y="125.4" width="1" height="1" fill="#ff9c00" opacity="0.7"/>
<rect x="257.2" y="115.8" width="1" height="1" fill="#ff9c00" opacity="0.7"/>
<rect x="345.1" y="115.3" width="1" height="1" fill="#ff9c00" opacity="0.7"/>
<rect x="270.2" y="105.9" width="1" height="1" fill="#ff9c00" opacity="0.7"/>
<rect x="257.3" y="108.9" width="1" height="1" fill="#ff9c00" opacity="0.7"/>
<rect x="333.5" y="129.9" width="1" height="1" fill="#ff9c00" opacity="0.7"/>
<rect x="324.1" y="139.7" width="1" height="1" fill="#ff9c00" opacity="0.7"/>
<rect x="287.7" y="137.6" width="1" height="1" fill="#ff9c00" opacity="0.7"/>
<rect x="279.6" y="118.4" width="1" height="1" fill="#ff9c00" opacity="0.7"/>
<rect x="336.5" y="136.6" width="1" height="1" fill="#ff9c00" opacity="0.7"/>
<rect x="336.8" y="120.9" width="1" height="1" fill="#ff9c00" opacity="0.7"/>
<rect x="308.5" y="118.0" width="1" height="1" fill="#ff9c00" opacity="0.7"/>
<rect x="345.4" y="137.2" width="1" height="1" fill="#ff9c00" opacity="0.7"/>
<rect x="260.8" y="137.7" width="1" height="1" fill="#ff9c00" opacity="0.7"/>
<rect x="256.1" y="106.3" width="1" height="1" fill="#ff9c00" opacity="0.7"/>
<rect x="301.4" y="113.7" width="1" height="1" fill="#ff9c00" opacity="0.7"/>
<rect x="278.0" y="126.7" width="1" height="1" fill="#ff9c00" opacity="0.7"/>
<rect x="253.1" y="130.6" width="1" height="1" fill="#ff9c00" opacity="0.7"/>
<rect x="260.0" y="118.9" width="1" height="1" fill="#ff9c00" opacity="0.7"/>
<rect x="264.0" y="130.5" width="1" height="1" fill="#ff9c00" opacity="0.7"/>
<rect x="304.8" y="113.5" width="1" height="1" fill="#ff9c00" opacity="0.7"/>
<rect x="253.9" y="113.9" width="1" height="1" fill="#ff9c00" opacity="0.7"/>
<rect x="268.6" y="105.6" width="1" height="1" fill="#ff9c00" opacity="0.7"/>
<rect x="255.1" y="131.3" width="1" height="1" fill="#ff9c00" opacity="0.7"/>
<rect x="298.5" y="139.3" width="1" height="1" fill="#ff9c00" opacity="0.7"/>
<rect x="342.2" y="135.6" width="1" height="1" fill="#ff9c00" opacity="0.7"/>
<rect x="265.8" y="108.8" width="1" height="1" fill="#ff9c00" opacity="0.7"/>
<rect x="261.9" y="120.1" width="1" height="1" fill="#ff9c00" opacity="0.7"/>
<rect x="278.6" y="123.0" width="1" height="1" fill="#ff9c00" opacity="0.7"/>
<rect x="264.9" y="134.7" width="1" height="1" fill="#ff9c00" opacity="0.7"/>
<rect x="260.5" y="120.1" width="1" height="1" fill="#ff9c00" opacity="0.7"/>
<rect x="326.0" y="133.0" width="1" height="1" fill="#ff9c00" opacity="0.7"/>
<rect x="261.1" y="111.8" width="1" height="1" fill="#ff9c00" opacity="0.7"/>
<rect x="313.4" y="103.1" width="1" height="1" fill="#ff9c00" opacity="0.7"/>
<rect x="254.5" y="122.6" width="1" height="1" fill="#ff9c00" opacity="0.7"/>
<rect x="279.6" y="108.9" width="1" height="1" fill="#ff9c00" opacity="0.7"/>
<rect x="253.1" y="110.3" width="1" height="1" fill="#ff9c00" opacity="0.7"/>
<rect x="308.0" y="120.2" width="1" height="1" fill="#ff9c00" opacity="0.7"/>
<rect x="342.1" y="132.2" width="1" height="1" fill="#ff9c00" opacity="0.7"/>
<rect x="342.1" y="104.0" width="1" height="1" fill="#ff9c00" opacity="0.7"/>
<rect x="256.1" y="103.2" width="1" height="1" fill="#ff9c00" opacity="0.7"/>
<rect x="270.3" y="115.4" width="1" height="1" fill="#ff9c00" opacity="0.7"/>
<rect x="253.1" y="123.2" width="1" height="1" fill="#ff9c00" opacity="0.7"/>
<rect x="253.7" y="114.4" width="1" height="1" fill="#ff9c00" opacity="0.7"/>
<rect x="258.6" y="132.8" width="1" height="1" fill="#ff9c00" opacity="0.7"/>
<rect x="269.2" y="112.5" width="1" height="1" fill="#ff9c00" opacity="0.7"/>
<rect x="253.1" y="118.8" width="1" height="1" fill="#ff9c00" opacity="0.7"/>
<rect x="289.5" y="128.0" width="1" height="1" fill="#ff9c00" opacity="0.7"/>
<rect x="330.3" y="133.0" width="1" height="1" fill="#ff9c00" opacity="0.7"/>
<rect x="258.6" y="107.8" width="1" height="1" fill="#ff9c00" opacity="0.7"/>
<rect x="306.4" y="132.3" width="1" height="1" fill="#ff9c00" opacity="0.7"/>
<rect x="277.0" y="133.9" width="1" height="1" fill="#ff9c00" opacity="0.7"/>
<rect x="281.2" y="113.2" width="1" height="1" fill="#ff9c00" opacity="0.7"/>
<rect x="255.5" y="103.3" width="1" height="1" fill="#ff9c00" opacity="0.7"/>
<rect x="291.4" y="136.3" width="1" height="1" fill="#ff9c00" opacity="0.7"/>
<rect x="329.3" y="120.2" width="1" height="1" fill="#ff9c00" opacity="0.7"/>
<rect x="294.1" y="137.5" width="1" height="1" fill="#ff9c00" opacity="0.7"/>
<rect x="314.5" y="125.3" width="1" height="1" fill="#ff9c00" opacity="0.7"/>
<rect x="268.9" y="122.1" width="1" height="1" fill="#ff9c00" opacity="0.7"/>
<rect x="255.6" y="109.6" width="1" height="1" fill="#ff9c00" opacity="0.7"/>
<rect x="296.4" y="139.9" width="1" height="1" fill="#ff9c00" opacity="0.7"/>
<rect x="254.1" y="117.8" width="1" height="1" fill="#ff9018" opacity="0.8"/>
<rect x="253.3" y="119.7" width="1" height="1" fill="#ff9018" opacity="0.8"/>
<rect x="255.1" y="119.6" width="1" height="1" fill="#ff9018" opacity="0.8"/>
<rect x="255.7" y="107.8" width="1" height="1" fill="#ff9018" opacity="0.8"/>
<rect x="253.2" y="122.3" width="1" height="1" fill="#ff9018" opacity="0.8"/>
<rect x="253.5" y="135.3" width="1" height="1" fill="#ff9018" opacity="0.8"/>
<rect x="255.2" y="138.5" width="1" height="1" fill="#ff9018" opacity="0.8"/>
<rect x="254.3" y="102.9" width="1" height="1" fill="#ff9018" opacity="0.8"/>
<rect x="254.2" y="123.4" width="1" height="1" fill="#ff9018" opacity="0.8"/>
<rect x="253.9" y="112.8" width="1" height="1" fill="#ff9018" opacity="0.8"/>
<rect x="254.7" y="137.7" width="1" height="1" fill="#ff9018" opacity="0.8"/>
<rect x="252.3" y="128.1" width="1" height="1" fill="#ff9018" opacity="0.8"/>
<rect x="253.4" y="122.0" width="1" height="1" fill="#ff9018" opacity="0.8"/>
<rect x="255.5" y="139.6" width="1" height="1" fill="#ff9018" opacity="0.8"/>
<rect x="254.5" y="109.4" width="1" height="1" fill="#ff9018" opacity="0.8"/>
<rect x="255.6" y="108.9" width="1" height="1" fill="#ff9018" opacity="0.8"/>
<rect x="253.4" y="134.4" width="1" height="1" fill="#ff9018" opacity="0.8"/>
<rect x="253.2" y="112.4" width="1" height="1" fill="#ff9018" opacity="0.8"/>
<rect x="255.7" y="139.0" width="1" height="1" fill="#ff9018" opacity="0.8"/>
<rect x="253.2" y="117.2" width="1" height="1" fill="#ff9018" opacity="0.8"/>
<rect x="253.0" y="106.9" width="1" height="1" fill="#ff9018" opacity="0.8"/>
<rect x="252.9" y="140.4" width="1" height="1" fill="#ff9018" opacity="0.8"/>
<rect x="252.2" y="110.8" width="1" height="1" fill="#ff9018" opacity="0.8"/>
<rect x="252.7" y="104.8" width="1" height="1" fill="#ff9018" opacity="0.8"/>
<rect x="254.0" y="131.0" width="1" height="1" fill="#ff9018" opacity="0.8"/>
<rect x="255.3" y="126.6" width="1" height="1" fill="#ff9018" opacity="0.8"/>
<rect x="255.2" y="101.9" width="1" height="1" fill="#ff9018" opacity="0.8"/>
<rect x="253.0" y="139.7" width="1" height="1" fill="#ff9018" opacity="0.8"/>
<rect x="252.2" y="112.3" width="1" height="1" fill="#ff9018" opacity="0.8"/>
<rect x="253.8" y="112.3" width="1" height="1" fill="#ff9018" opacity="0.8"/>
<rect x="247.3" y="103.6" width="1" height="1" fill="#ff6810" opacity="0.8"/>
<rect x="246.5" y="139.5" width="1" height="1" fill="#ff6810" opacity="0.8"/>
<rect x="246.3" y="137.5" width="1" height="1" fill="#ff6810" opacity="0.8"/>
<rect x="246.3" y="140.9" width="1" height="1" fill="#ff6810" opacity="0.8"/>
<rect x="247.6" y="127.3" width="1" height="1" fill="#ff6810" opacity="0.8"/>
<rect x="246.3" y="103.9" width="1" height="1" fill="#ff6810" opacity="0.8"/>
<rect x="247.8" y="108.7" width="1" height="1" fill="#ff6810" opacity="0.8"/>
<rect x="246.4" y="134.2" width="1" height="1" fill="#ff6810" opacity="0.8"/>
<rect x="248.1" y="103.6" width="1" height="1" fill="#ff6810" opacity="0.8"/>
<rect x="248.3" y="122.8" width="1" height="1" fill="#ff6810" opacity="0.8"/>
<rect x="246.9" y="105.9" width="1" height="1" fill="#ff6810" opacity="0.8"/>
<rect x="246.9" y="140.7" width="1" height="1" fill="#ff6810" opacity="0.8"/>
<rect x="246.6" y="106.9" width="1" height="1" fill="#ff6810" opacity="0.8"/>
<rect x="246.3" y="106.7" width="1" height="1" fill="#ff6810" opacity="0.8"/>
<rect x="246.8" y="137.8" width="1" height="1" fill="#ff6810" opacity="0.8"/>
<rect x="246.1" y="109.3" width="1" height="1" fill="#ff6810" opacity="0.8"/>
<rect x="248.2" y="141.1" width="1" height="1" fill="#ff6810" opacity="0.8"/>
<rect x="248.3" y="111.4" width="1" height="1" fill="#ff6810" opacity="0.8"/>
<rect x="246.8" y="139.3" width="1" height="1" fill="#ff6810" opacity="0.8"/>
<rect x="247.1" y="129.5" width="1" height="1" fill="#ff6810" opacity="0.8"/>
</g>
<rect x="236.9" y="99.7" width="109.70000000000002" height="1.5" fill="#ffe800" opacity="0.8"/>
<rect x="236.9" y="141.6" width="109.70000000000002" height="1.6" fill="#ffe000" opacity="0.8"/>
</g>
<rect x="236.9" y="99.7" width="109.70000000000002" height="43.499999999999986" fill="none" stroke="#505050" stroke-width="0.45" stroke-opacity="0.85"/>
<text x="236.90" y="149.1" font-size="5.3" text-anchor="middle">0</text>
<rect x="258.54" y="141.89999999999998" width="0.6" height="1.3" fill="#222"/>
<text x="258.84" y="149.1" font-size="5.3" text-anchor="middle">1</text>
<rect x="280.48" y="141.89999999999998" width="0.6" height="1.3" fill="#222"/>
<text x="280.78" y="149.1" font-size="5.3" text-anchor="middle">2</text>
<rect x="302.42" y="141.89999999999998" width="0.6" height="1.3" fill="#222"/>
<text x="302.72" y="149.1" font-size="5.3" text-anchor="middle">3</text>
<rect x="324.36" y="141.89999999999998" width="0.6" height="1.3" fill="#222"/>
<text x="324.66" y="149.1" font-size="5.3" text-anchor="middle">4</text>
<text x="346.60" y="149.1" font-size="5.3" text-anchor="middle">5</text>
<text x="235.70000000000002" y="144.80" font-size="5.3" text-anchor="end">0</text>
<rect x="236.9" y="121.15" width="1.3" height="0.6" fill="#222"/>
<text x="235.70000000000002" y="123.05" font-size="5.3" text-anchor="end">1</text>
<text x="235.70000000000002" y="101.30" font-size="5.3" text-anchor="end">2</text>
<text transform="translate(232.3,121.44999999999999) rotate(-90)" font-size="6" text-anchor="middle"><tspan font-style="italic">y</tspan>/mm</text>
<text x="292.3" y="156.2" font-size="6" text-anchor="middle"><tspan font-style="italic">x</tspan>/mm</text>
<text x="287.4" y="163.3" font-size="6.2" text-anchor="middle" stroke="#111" stroke-width="0.12">(d) 15 ns ion density</text>
<linearGradient id="g2" gradientUnits="userSpaceOnUse" x1="112.0" x2="126.0" y1="0" y2="0"><stop offset="0.000" stop-color="#ff8010"/><stop offset="0.071" stop-color="#f82010"/><stop offset="0.214" stop-color="#ee1810"/><stop offset="0.379" stop-color="#f82810"/><stop offset="0.486" stop-color="#ff5a10"/><stop offset="0.679" stop-color="#ff7410"/><stop offset="0.821" stop-color="#ff8c10"/><stop offset="1.000" stop-color="#ff9b0a" stop-opacity="0"/></linearGradient>
<clipPath id="c5"><rect x="112.0" y="172.6" width="110.0" height="43.900000000000006"/></clipPath>
<rect x="112.0" y="172.6" width="110.0" height="43.900000000000006" fill="#ff9b0a"/>
<g clip-path="url(#c5)">
<g filter="url(#bm)">
<path d="M112.0,169.6 L225.0,169.6 L225.0,177.79999999999998 L112.0,174.79999999999998 Z" fill="#ffbe14"/>
<path d="M112.0,219.5 L225.0,219.5 L225.0,212.5 L112.0,215.0 Z" fill="#ffb814"/>
<rect x="220.8" y="172.6" width="4" height="43.900000000000006" fill="#ffc418"/>
<rect x="109.0" y="169.6" width="17" height="49.900000000000006" fill="url(#g2)"/>
</g>
<g filter="url(#bs)">
<rect x="154.0" y="175.5" width="1" height="1" fill="#ffb020" opacity="0.7"/>
<rect x="157.2" y="204.5" width="1" height="1" fill="#ffb020" opacity="0.7"/>
<rect x="200.4" y="197.3" width="1" height="1" fill="#ffb020" opacity="0.7"/>
<rect x="168.9" y="196.1" width="1" height="1" fill="#ffb020" opacity="0.7"/>
<rect x="166.8" y="195.9" width="1" height="1" fill="#ffb020" opacity="0.7"/>
<rect x="205.5" y="182.6" width="1" height="1" fill="#ffb020" opacity="0.7"/>
<rect x="181.8" y="211.8" width="1" height="1" fill="#ffb020" opacity="0.7"/>
<rect x="207.0" y="181.8" width="1" height="1" fill="#ffb020" opacity="0.7"/>
<rect x="218.4" y="208.1" width="1" height="1" fill="#ffb020" opacity="0.7"/>
<rect x="139.6" y="185.2" width="1" height="1" fill="#ffb020" opacity="0.7"/>
<rect x="143.0" y="176.7" width="1" height="1" fill="#ffb020" opacity="0.7"/>
<rect x="219.9" y="190.9" width="1" height="1" fill="#ffb020" opacity="0.7"/>
<rect x="209.4" y="179.2" width="1" height="1" fill="#ffb020" opacity="0.7"/>
<rect x="124.4" y="209.3" width="1" height="1" fill="#ffb020" opacity="0.7"/>
<rect x="201.6" y="214.2" width="1" height="1" fill="#ffb020" opacity="0.7"/>
<rect x="190.9" y="195.6" width="1" height="1" fill="#ffb020" opacity="0.7"/>
<rect x="198.8" y="178.3" width="1" height="1" fill="#ffb020" opacity="0.7"/>
<rect x="176.5" y="192.2" width="1" height="1" fill="#ffb020" opacity="0.7"/>
<rect x="137.5" y="198.6" width="1" height="1" fill="#ffb020" opacity="0.7"/>
<rect x="155.0" y="194.8" width="1" height="1" fill="#ffb020" opacity="0.7"/>
<rect x="160.0" y="187.3" width="1" height="1" fill="#ffb020" opacity="0.7"/>
<rect x="158.5" y="198.6" width="1" height="1" fill="#ffb020" opacity="0.7"/>
<rect x="220.1" y="212.0" width="1" height="1" fill="#ffb020" opacity="0.7"/>
<rect x="208.4" y="207.9" width="1" height="1" fill="#ffb020" opacity="0.7"/>
<rect x="151.4" y="213.6" width="1" height="1" fill="#ffb020" opacity="0.7"/>
<rect x="149.7" y="179.5" width="1" height="1" fill="#ffb020" opacity="0.7"/>
<rect x="172.6" y="203.8" width="1" height="1" fill="#ffb020" opacity="0.7"/>
<rect x="156.8" y="200.3" width="1" height="1" fill="#ffb020" opacity="0.7"/>
<rect x="151.0" y="213.2" width="1" height="1" fill="#ffb020" opacity="0.7"/>
<rect x="167.8" y="193.7" width="1" height="1" fill="#ffb020" opacity="0.7"/>
<rect x="175.6" y="209.5" width="1" height="1" fill="#ffb020" opacity="0.7"/>
<rect x="220.7" y="195.7" width="1" height="1" fill="#ffb020" opacity="0.7"/>
<rect x="166.7" y="199.3" width="1" height="1" fill="#ffb020" opacity="0.7"/>
<rect x="129.9" y="191.6" width="1" height="1" fill="#ffb020" opacity="0.7"/>
<rect x="206.9" y="205.6" width="1" height="1" fill="#ffb020" opacity="0.7"/>
<rect x="128.9" y="208.7" width="1" height="1" fill="#ffb020" opacity="0.7"/>
<rect x="161.0" y="213.8" width="1" height="1" fill="#ffb020" opacity="0.7"/>
<rect x="159.3" y="183.2" width="1" height="1" fill="#ffb020" opacity="0.7"/>
<rect x="177.3" y="209.9" width="1" height="1" fill="#ffb020" opacity="0.7"/>
<rect x="165.7" y="209.2" width="1" height="1" fill="#ffb020" opacity="0.7"/>
<rect x="193.4" y="189.0" width="1" height="1" fill="#ffb020" opacity="0.7"/>
<rect x="152.8" y="194.8" width="1" height="1" fill="#ffb020" opacity="0.7"/>
<rect x="162.5" y="189.5" width="1" height="1" fill="#ffb020" opacity="0.7"/>
<rect x="187.5" y="209.5" width="1" height="1" fill="#ffb020" opacity="0.7"/>
<rect x="180.9" y="180.4" width="1" height="1" fill="#ffb020" opacity="0.7"/>
<rect x="144.8" y="189.4" width="1" height="1" fill="#ffb020" opacity="0.7"/>
<rect x="183.9" y="180.2" width="1" height="1" fill="#ffb020" opacity="0.7"/>
<rect x="131.1" y="187.4" width="1" height="1" fill="#ffb020" opacity="0.7"/>
<rect x="151.0" y="175.8" width="1" height="1" fill="#ffb020" opacity="0.7"/>
<rect x="176.3" y="211.4" width="1" height="1" fill="#ffb020" opacity="0.7"/>
<rect x="175.9" y="204.0" width="1" height="1" fill="#ffb020" opacity="0.7"/>
<rect x="205.0" y="208.0" width="1" height="1" fill="#ffb020" opacity="0.7"/>
<rect x="213.4" y="192.2" width="1" height="1" fill="#ffb020" opacity="0.7"/>
<rect x="190.6" y="179.4" width="1" height="1" fill="#ffb020" opacity="0.7"/>
<rect x="210.1" y="189.7" width="1" height="1" fill="#ffb020" opacity="0.7"/>
<rect x="170.1" y="210.1" width="1" height="1" fill="#ffb020" opacity="0.7"/>
<rect x="151.4" y="182.2" width="1" height="1" fill="#ffb020" opacity="0.7"/>
<rect x="204.5" y="198.5" width="1" height="1" fill="#ffb020" opacity="0.7"/>
<rect x="131.4" y="175.7" width="1" height="1" fill="#ffb020" opacity="0.7"/>
<rect x="157.8" y="174.9" width="1" height="1" fill="#ffb020" opacity="0.7"/>
<rect x="205.4" y="181.9" width="1" height="1" fill="#ffb020" opacity="0.7"/>
<rect x="150.1" y="190.1" width="1" height="1" fill="#ffb020" opacity="0.7"/>
<rect x="173.7" y="191.9" width="1" height="1" fill="#ffb020" opacity="0.7"/>
<rect x="185.2" y="200.9" width="1" height="1" fill="#ffb020" opacity="0.7"/>
<rect x="166.2" y="178.5" width="1" height="1" fill="#ffb020" opacity="0.7"/>
<rect x="219.9" y="202.2" width="1" height="1" fill="#ffb020" opacity="0.7"/>
<rect x="131.3" y="192.2" width="1" height="1" fill="#ffb020" opacity="0.7"/>
<rect x="197.6" y="214.2" width="1" height="1" fill="#ffb020" opacity="0.7"/>
<rect x="129.5" y="175.0" width="1" height="1" fill="#ffb020" opacity="0.7"/>
<rect x="170.5" y="191.4" width="1" height="1" fill="#ffb020" opacity="0.7"/>
<rect x="211.5" y="207.6" width="1" height="1" fill="#ffb020" opacity="0.7"/>
<rect x="155.8" y="191.3" width="1" height="1" fill="#ffb020" opacity="0.7"/>
<rect x="180.7" y="209.9" width="1" height="1" fill="#ffb020" opacity="0.7"/>
<rect x="143.0" y="190.2" width="1" height="1" fill="#ffb020" opacity="0.7"/>
<rect x="131.8" y="200.2" width="1" height="1" fill="#ffb020" opacity="0.7"/>
<rect x="125.6" y="211.9" width="1" height="1" fill="#ffb020" opacity="0.7"/>
<rect x="174.8" y="197.5" width="1" height="1" fill="#ffb020" opacity="0.7"/>
<rect x="131.4" y="183.9" width="1" height="1" fill="#ffb020" opacity="0.7"/>
<rect x="169.4" y="208.8" width="1" height="1" fill="#ffb020" opacity="0.7"/>
<rect x="176.4" y="186.0" width="1" height="1" fill="#ffb020" opacity="0.7"/>
<rect x="220.2" y="201.0" width="1" height="1" fill="#ffb020" opacity="0.7"/>
<rect x="175.3" y="182.7" width="1" height="1" fill="#ffb020" opacity="0.7"/>
<rect x="152.6" y="210.5" width="1" height="1" fill="#ffb020" opacity="0.7"/>
<rect x="136.2" y="195.8" width="1" height="1" fill="#ffb020" opacity="0.7"/>
<rect x="184.4" y="188.8" width="1" height="1" fill="#ffb020" opacity="0.7"/>
<rect x="199.1" y="210.9" width="1" height="1" fill="#ffb020" opacity="0.7"/>
<rect x="207.9" y="204.0" width="1" height="1" fill="#ffb020" opacity="0.7"/>
<rect x="143.2" y="177.0" width="1" height="1" fill="#ffb020" opacity="0.7"/>
<rect x="165.8" y="187.1" width="1" height="1" fill="#ffb020" opacity="0.7"/>
<rect x="142.2" y="209.4" width="1" height="1" fill="#ffb020" opacity="0.7"/>
<rect x="144.4" y="207.4" width="1" height="1" fill="#ffb020" opacity="0.7"/>
<rect x="215.8" y="179.4" width="1" height="1" fill="#ffb020" opacity="0.7"/>
<rect x="213.4" y="190.4" width="1" height="1" fill="#ffb020" opacity="0.7"/>
<rect x="144.0" y="182.0" width="1" height="1" fill="#ffb020" opacity="0.7"/>
<rect x="126.7" y="194.5" width="1" height="1" fill="#ffb020" opacity="0.7"/>
<rect x="161.0" y="208.6" width="1" height="1" fill="#ffb020" opacity="0.7"/>
<rect x="205.5" y="176.9" width="1" height="1" fill="#ffb020" opacity="0.7"/>
<rect x="162.7" y="190.1" width="1" height="1" fill="#ffb020" opacity="0.7"/>
<rect x="140.6" y="184.6" width="1" height="1" fill="#ffb020" opacity="0.7"/>
<rect x="149.1" y="202.3" width="1" height="1" fill="#ffb020" opacity="0.7"/>
<rect x="156.7" y="179.0" width="1" height="1" fill="#ffb020" opacity="0.7"/>
<rect x="144.8" y="192.2" width="1" height="1" fill="#ffb020" opacity="0.7"/>
<rect x="178.9" y="184.4" width="1" height="1" fill="#ffb020" opacity="0.7"/>
<rect x="192.3" y="183.2" width="1" height="1" fill="#ffb020" opacity="0.7"/>
<rect x="189.4" y="198.9" width="1" height="1" fill="#ffb020" opacity="0.7"/>
<rect x="140.4" y="204.6" width="1" height="1" fill="#ffb020" opacity="0.7"/>
<rect x="162.0" y="196.1" width="1" height="1" fill="#ffb020" opacity="0.7"/>
<rect x="182.2" y="199.7" width="1" height="1" fill="#ffb020" opacity="0.7"/>
<rect x="166.8" y="176.8" width="1" height="1" fill="#ffb020" opacity="0.7"/>
<rect x="200.9" y="208.9" width="1" height="1" fill="#ffb020" opacity="0.7"/>
<rect x="176.1" y="176.8" width="1" height="1" fill="#ff9b0a" opacity="0.6"/>
<rect x="156.2" y="177.8" width="1" height="1" fill="#ff9b0a" opacity="0.6"/>
<rect x="193.7" y="175.8" width="1" height="1" fill="#ff9b0a" opacity="0.6"/>
<rect x="205.6" y="178.1" width="1" height="1" fill="#ff9b0a" opacity="0.6"/>
<rect x="163.1" y="178.1" width="1" height="1" fill="#ff9b0a" opacity="0.6"/>
<rect x="175.5" y="175.6" width="1" height="1" fill="#ff9b0a" opacity="0.6"/>
<rect x="196.5" y="176.1" width="1" height="1" fill="#ff9b0a" opacity="0.6"/>
<rect x="197.9" y="176.9" width="1" height="1" fill="#ff9b0a" opacity="0.6"/>
<rect x="141.7" y="176.7" width="1" height="1" fill="#ff9b0a" opacity="0.6"/>
<rect x="208.6" y="176.5" width="1" height="1" fill="#ff9b0a" opacity="0.6"/>
<rect x="180.5" y="177.7" width="1" height="1" fill="#ff9b0a" opacity="0.6"/>
<rect x="172.2" y="176.6" width="1" height="1" fill="#ff9b0a" opacity="0.6"/>
<rect x="184.5" y="177.6" width="1" height="1" fill="#ff9b0a" opacity="0.6"/>
<rect x="150.3" y="175.4" width="1" height="1" fill="#ff9b0a" opacity="0.6"/>
<rect x="200.5" y="176.8" width="1" height="1" fill="#ff9b0a" opacity="0.6"/>
<rect x="159.2" y="177.8" width="1" height="1" fill="#ff9b0a" opacity="0.6"/>
<rect x="211.6" y="176.7" width="1" height="1" fill="#ff9b0a" opacity="0.6"/>
<rect x="221.0" y="177.6" width="1" height="1" fill="#ff9b0a" opacity="0.6"/>
<rect x="199.3" y="176.0" width="1" height="1" fill="#ff9b0a" opacity="0.6"/>
<rect x="133.0" y="177.1" width="1" height="1" fill="#ff9b0a" opacity="0.6"/>
<rect x="198.2" y="176.2" width="1" height="1" fill="#ff9b0a" opacity="0.6"/>
<rect x="175.1" y="176.8" width="1" height="1" fill="#ff9b0a" opacity="0.6"/>
<rect x="154.5" y="177.2" width="1" height="1" fill="#ff9b0a" opacity="0.6"/>
<rect x="182.6" y="176.3" width="1" height="1" fill="#ff9b0a" opacity="0.6"/>
<rect x="141.9" y="176.8" width="1" height="1" fill="#ff9b0a" opacity="0.6"/>
<rect x="160.8" y="177.3" width="1" height="1" fill="#ff9b0a" opacity="0.6"/>
<rect x="147.5" y="176.3" width="1" height="1" fill="#ff9b0a" opacity="0.6"/>
<rect x="149.7" y="176.3" width="1" height="1" fill="#ff9b0a" opacity="0.6"/>
<rect x="183.9" y="175.4" width="1" height="1" fill="#ff9b0a" opacity="0.6"/>
<rect x="136.9" y="176.5" width="1" height="1" fill="#ff9b0a" opacity="0.6"/>
<rect x="150.1" y="213.3" width="1" height="1" fill="#ff9b0a" opacity="0.6"/>
<rect x="147.0" y="212.3" width="1" height="1" fill="#ff9b0a" opacity="0.6"/>
<rect x="180.4" y="214.3" width="1" height="1" fill="#ff9b0a" opacity="0.6"/>
<rect x="210.2" y="213.3" width="1" height="1" fill="#ff9b0a" opacity="0.6"/>
<rect x="167.8" y="212.2" width="1" height="1" fill="#ff9b0a" opacity="0.6"/>
<rect x="156.9" y="212.8" width="1" height="1" fill="#ff9b0a" opacity="0.6"/>
<rect x="216.7" y="212.3" width="1" height="1" fill="#ff9b0a" opacity="0.6"/>
<rect x="217.3" y="213.2" width="1" height="1" fill="#ff9b0a" opacity="0.6"/>
<rect x="171.1" y="212.7" width="1" height="1" fill="#ff9b0a" opacity="0.6"/>
<rect x="218.6" y="212.5" width="1" height="1" fill="#ff9b0a" opacity="0.6"/>
<rect x="183.4" y="213.3" width="1" height="1" fill="#ff9b0a" opacity="0.6"/>
<rect x="150.0" y="212.6" width="1" height="1" fill="#ff9b0a" opacity="0.6"/>
<rect x="220.7" y="214.0" width="1" height="1" fill="#ff9b0a" opacity="0.6"/>
<rect x="198.0" y="214.3" width="1" height="1" fill="#ff9b0a" opacity="0.6"/>
<rect x="140.9" y="213.8" width="1" height="1" fill="#ff9b0a" opacity="0.6"/>
<rect x="199.5" y="212.6" width="1" height="1" fill="#ff9b0a" opacity="0.6"/>
<rect x="173.1" y="214.4" width="1" height="1" fill="#ff9b0a" opacity="0.6"/>
<rect x="161.4" y="213.9" width="1" height="1" fill="#ff9b0a" opacity="0.6"/>
<rect x="146.9" y="213.7" width="1" height="1" fill="#ff9b0a" opacity="0.6"/>
<rect x="156.3" y="213.3" width="1" height="1" fill="#ff9b0a" opacity="0.6"/>
<rect x="165.5" y="214.2" width="1" height="1" fill="#ff9b0a" opacity="0.6"/>
<rect x="199.0" y="213.3" width="1" height="1" fill="#ff9b0a" opacity="0.6"/>
<rect x="193.9" y="213.1" width="1" height="1" fill="#ff9b0a" opacity="0.6"/>
<rect x="204.4" y="212.6" width="1" height="1" fill="#ff9b0a" opacity="0.6"/>
<rect x="181.0" y="213.5" width="1" height="1" fill="#ff9b0a" opacity="0.6"/>
<rect x="123.0" y="176.5" width="1" height="1" fill="#ff7010" opacity="0.8"/>
<rect x="122.4" y="200.2" width="1" height="1" fill="#ff7010" opacity="0.8"/>
<rect x="122.5" y="204.9" width="1" height="1" fill="#ff7010" opacity="0.8"/>
<rect x="123.3" y="212.6" width="1" height="1" fill="#ff7010" opacity="0.8"/>
<rect x="124.1" y="203.6" width="1" height="1" fill="#ff7010" opacity="0.8"/>
<rect x="122.9" y="176.3" width="1" height="1" fill="#ff7010" opacity="0.8"/>
<rect x="123.4" y="204.4" width="1" height="1" fill="#ff7010" opacity="0.8"/>
<rect x="124.3" y="182.7" width="1" height="1" fill="#ff7010" opacity="0.8"/>
<rect x="122.4" y="213.7" width="1" height="1" fill="#ff7010" opacity="0.8"/>
<rect x="123.8" y="193.9" width="1" height="1" fill="#ff7010" opacity="0.8"/>
<rect x="123.8" y="180.6" width="1" height="1" fill="#ff7010" opacity="0.8"/>
<rect x="123.4" y="201.3" width="1" height="1" fill="#ff7010" opacity="0.8"/>
<rect x="123.5" y="181.0" width="1" height="1" fill="#ff7010" opacity="0.8"/>
<rect x="122.3" y="199.5" width="1" height="1" fill="#ff7010" opacity="0.8"/>
<rect x="124.2" y="180.1" width="1" height="1" fill="#ff7010" opacity="0.8"/>
<rect x="122.0" y="177.9" width="1" height="1" fill="#ff7010" opacity="0.8"/>
<rect x="124.0" y="190.2" width="1" height="1" fill="#ff7010" opacity="0.8"/>
<rect x="123.1" y="214.3" width="1" height="1" fill="#ff7010" opacity="0.8"/>
<rect x="123.5" y="185.1" width="1" height="1" fill="#ff7010" opacity="0.8"/>
<rect x="123.8" y="174.7" width="1" height="1" fill="#ff7010" opacity="0.8"/>
<rect x="122.7" y="202.5" width="1" height="1" fill="#ff7010" opacity="0.8"/>
<rect x="122.4" y="175.9" width="1" height="1" fill="#ff7010" opacity="0.8"/>
<rect x="123.3" y="187.7" width="1" height="1" fill="#ff7010" opacity="0.8"/>
<rect x="124.4" y="178.7" width="1" height="1" fill="#ff7010" opacity="0.8"/>
<rect x="124.0" y="190.1" width="1" height="1" fill="#ff7010" opacity="0.8"/>
</g>
<rect x="112.0" y="172.6" width="110.0" height="1.5" fill="#ffe000" opacity="0.8"/>
<rect x="112.0" y="215.0" width="110.0" height="1.5" fill="#ffc800" opacity="0.8"/>
</g>
<rect x="112.0" y="172.6" width="110.0" height="43.900000000000006" fill="none" stroke="#505050" stroke-width="0.45" stroke-opacity="0.85"/>
<text x="112.00" y="222.4" font-size="5.3" text-anchor="middle">0</text>
<rect x="133.70" y="215.2" width="0.6" height="1.3" fill="#222"/>
<text x="134.00" y="222.4" font-size="5.3" text-anchor="middle">1</text>
<rect x="155.70" y="215.2" width="0.6" height="1.3" fill="#222"/>
<text x="156.00" y="222.4" font-size="5.3" text-anchor="middle">2</text>
<rect x="177.70" y="215.2" width="0.6" height="1.3" fill="#222"/>
<text x="178.00" y="222.4" font-size="5.3" text-anchor="middle">3</text>
<rect x="199.70" y="215.2" width="0.6" height="1.3" fill="#222"/>
<text x="200.00" y="222.4" font-size="5.3" text-anchor="middle">4</text>
<text x="222.00" y="222.4" font-size="5.3" text-anchor="middle">5</text>
<text x="110.8" y="218.10" font-size="5.3" text-anchor="end">0</text>
<rect x="112.0" y="194.25" width="1.3" height="0.6" fill="#222"/>
<text x="110.8" y="196.15" font-size="5.3" text-anchor="end">1</text>
<text x="110.8" y="174.20" font-size="5.3" text-anchor="end">2</text>
<text transform="translate(107.4,194.55) rotate(-90)" font-size="6" text-anchor="middle"><tspan font-style="italic">y</tspan>/mm</text>
<text x="166.8" y="229.3" font-size="6" text-anchor="middle"><tspan font-style="italic">x</tspan>/mm</text>
<text x="167.5" y="235.8" font-size="6.2" text-anchor="middle" stroke="#111" stroke-width="0.12">(e) 20 ns ion density</text>
<linearGradient id="g3" gradientUnits="userSpaceOnUse" x1="237.3" x2="253.8" y1="0" y2="0"><stop offset="0.000" stop-color="#f03010"/><stop offset="0.091" stop-color="#d81010"/><stop offset="0.212" stop-color="#c81010"/><stop offset="0.303" stop-color="#e81c10"/><stop offset="0.424" stop-color="#ff4010"/><stop offset="0.606" stop-color="#ff6c12"/><stop offset="0.788" stop-color="#ff8c14"/><stop offset="1.000" stop-color="#ffa200" stop-opacity="0"/></linearGradient>
<clipPath id="c6"><rect x="237.3" y="172.7" width="109.5" height="43.900000000000006"/></clipPath>
<rect x="237.3" y="172.7" width="109.5" height="43.900000000000006" fill="#ffa200"/>
<g clip-path="url(#c6)">
<g filter="url(#bm)">
<rect x="247.3" y="174.7" width="85" height="39.900000000000006" fill="url(#ff)"/>
<path d="M237.3,169.7 L349.8,169.7 L349.8,176.29999999999998 L237.3,174.29999999999998 Z" fill="#ffbc18"/>
<path d="M237.3,219.6 L349.8,219.6 L349.8,214.2 L237.3,215.6 Z" fill="#ffb818"/>
<rect x="345.6" y="172.7" width="4" height="43.900000000000006" fill="#ffc418"/>
<rect x="234.3" y="169.7" width="19.5" height="49.900000000000006" fill="url(#g3)"/>
</g>
<g filter="url(#bs)">
<rect x="312.6" y="192.5" width="1" height="1" fill="#ff8a00" opacity="0.75"/>
<rect x="293.1" y="187.7" width="1" height="1" fill="#ff8a00" opacity="0.75"/>
<rect x="255.1" y="192.8" width="1" height="1" fill="#ff8a00" opacity="0.75"/>
<rect x="311.8" y="188.5" width="1" height="1" fill="#ff8a00" opacity="0.75"/>
<rect x="255.4" y="191.3" width="1" height="1" fill="#ff8a00" opacity="0.75"/>
<rect x="251.2" y="187.3" width="1" height="1" fill="#ff8a00" opacity="0.75"/>
<rect x="281.8" y="196.5" width="1" height="1" fill="#ff8a00" opacity="0.75"/>
<rect x="284.6" y="186.3" width="1" height="1" fill="#ff8a00" opacity="0.75"/>
<rect x="250.4" y="175.8" width="1" height="1" fill="#ff8a00" opacity="0.75"/>
<rect x="261.3" y="182.5" width="1" height="1" fill="#ff8a00" opacity="0.75"/>
<rect x="281.4" y="185.3" width="1" height="1" fill="#ff8a00" opacity="0.75"/>
<rect x="306.0" y="198.7" width="1" height="1" fill="#ff8a00" opacity="0.75"/>
<rect x="292.4" y="204.0" width="1" height="1" fill="#ff8a00" opacity="0.75"/>
<rect x="276.4" y="191.7" width="1" height="1" fill="#ff8a00" opacity="0.75"/>
<rect x="259.4" y="177.2" width="1" height="1" fill="#ff8a00" opacity="0.75"/>
<rect x="310.9" y="194.7" width="1" height="1" fill="#ff8a00" opacity="0.75"/>
<rect x="251.3" y="211.7" width="1" height="1" fill="#ff8a00" opacity="0.75"/>
<rect x="282.8" y="199.6" width="1" height="1" fill="#ff8a00" opacity="0.75"/>
<rect x="268.8" y="179.7" width="1" height="1" fill="#ff8a00" opacity="0.75"/>
<rect x="346.2" y="181.4" width="1" height="1" fill="#ff8a00" opacity="0.75"/>
<rect x="263.2" y="214.6" width="1" height="1" fill="#ff8a00" opacity="0.75"/>
<rect x="251.7" y="194.6" width="1" height="1" fill="#ff8a00" opacity="0.75"/>
<rect x="272.4" y="184.6" width="1" height="1" fill="#ff8a00" opacity="0.75"/>
<rect x="332.4" y="191.2" width="1" height="1" fill="#ff8a00" opacity="0.75"/>
<rect x="250.3" y="193.6" width="1" height="1" fill="#ff8a00" opacity="0.75"/>
<rect x="250.3" y="203.0" width="1" height="1" fill="#ff8a00" opacity="0.75"/>
<rect x="322.8" y="210.8" width="1" height="1" fill="#ff8a00" opacity="0.75"/>
<rect x="250.5" y="201.6" width="1" height="1" fill="#ff8a00" opacity="0.75"/>
<rect x="259.2" y="193.6" width="1" height="1" fill="#ff8a00" opacity="0.75"/>
<rect x="259.0" y="186.9" width="1" height="1" fill="#ff8a00" opacity="0.75"/>
<rect x="252.0" y="199.7" width="1" height="1" fill="#ff8a00" opacity="0.75"/>
<rect x="251.1" y="213.2" width="1" height="1" fill="#ff8a00" opacity="0.75"/>
<rect x="250.5" y="213.2" width="1" height="1" fill="#ff8a00" opacity="0.75"/>
<rect x="253.8" y="178.0" width="1" height="1" fill="#ff8a00" opacity="0.75"/>
<rect x="303.6" y="195.9" width="1" height="1" fill="#ff8a00" opacity="0.75"/>
<rect x="307.1" y="195.0" width="1" height="1" fill="#ff8a00" opacity="0.75"/>
<rect x="288.5" y="178.0" width="1" height="1" fill="#ff8a00" opacity="0.75"/>
<rect x="293.9" y="195.1" width="1" height="1" fill="#ff8a00" opacity="0.75"/>
<rect x="339.2" y="174.9" width="1" height="1" fill="#ff8a00" opacity="0.75"/>
<rect x="250.7" y="201.7" width="1" height="1" fill="#ff8a00" opacity="0.75"/>
<rect x="332.6" y="191.5" width="1" height="1" fill="#ff8a00" opacity="0.75"/>
<rect x="298.8" y="197.1" width="1" height="1" fill="#ff8a00" opacity="0.75"/>
<rect x="265.0" y="193.3" width="1" height="1" fill="#ff8a00" opacity="0.75"/>
<rect x="285.0" y="175.9" width="1" height="1" fill="#ff8a00" opacity="0.75"/>
<rect x="259.3" y="204.1" width="1" height="1" fill="#ff8a00" opacity="0.75"/>
<rect x="256.7" y="193.6" width="1" height="1" fill="#ff8a00" opacity="0.75"/>
<rect x="256.6" y="189.0" width="1" height="1" fill="#ff8a00" opacity="0.75"/>
<rect x="290.9" y="204.4" width="1" height="1" fill="#ff8a00" opacity="0.75"/>
<rect x="338.2" y="193.7" width="1" height="1" fill="#ff8a00" opacity="0.75"/>
<rect x="254.2" y="188.1" width="1" height="1" fill="#ff8a00" opacity="0.75"/>
<rect x="250.6" y="184.3" width="1" height="1" fill="#ff8a00" opacity="0.75"/>
<rect x="283.1" y="199.1" width="1" height="1" fill="#ff8a00" opacity="0.75"/>
<rect x="255.9" y="181.9" width="1" height="1" fill="#ff8a00" opacity="0.75"/>
<rect x="251.2" y="181.8" width="1" height="1" fill="#ff8a00" opacity="0.75"/>
<rect x="274.4" y="184.9" width="1" height="1" fill="#ff8a00" opacity="0.75"/>
<rect x="325.3" y="197.2" width="1" height="1" fill="#ff8a00" opacity="0.75"/>
<rect x="261.4" y="191.9" width="1" height="1" fill="#ff8a00" opacity="0.75"/>
<rect x="250.5" y="203.9" width="1" height="1" fill="#ff8a00" opacity="0.75"/>
<rect x="304.5" y="189.2" width="1" height="1" fill="#ff8a00" opacity="0.75"/>
<rect x="300.8" y="185.6" width="1" height="1" fill="#ff8a00" opacity="0.75"/>
<rect x="254.9" y="183.8" width="1" height="1" fill="#ff8a00" opacity="0.75"/>
<rect x="254.0" y="198.9" width="1" height="1" fill="#ff8a00" opacity="0.75"/>
<rect x="289.9" y="203.7" width="1" height="1" fill="#ff8a00" opacity="0.75"/>
<rect x="251.3" y="205.3" width="1" height="1" fill="#ff8a00" opacity="0.75"/>
<rect x="272.3" y="189.8" width="1" height="1" fill="#ff8a00" opacity="0.75"/>
<rect x="274.6" y="192.0" width="1" height="1" fill="#ff8a00" opacity="0.75"/>
<rect x="254.1" y="190.5" width="1" height="1" fill="#ff8a00" opacity="0.75"/>
<rect x="290.4" y="203.2" width="1" height="1" fill="#ff8a00" opacity="0.75"/>
<rect x="330.7" y="182.5" width="1" height="1" fill="#ff8a00" opacity="0.75"/>
<rect x="326.5" y="206.6" width="1" height="1" fill="#ff8a00" opacity="0.75"/>
<rect x="299.1" y="213.8" width="1" height="1" fill="#ff8a00" opacity="0.75"/>
<rect x="252.1" y="205.7" width="1" height="1" fill="#ff8a00" opacity="0.75"/>
<rect x="328.0" y="179.6" width="1" height="1" fill="#ff8a00" opacity="0.75"/>
<rect x="284.2" y="212.5" width="1" height="1" fill="#ff8a00" opacity="0.75"/>
<rect x="258.5" y="208.8" width="1" height="1" fill="#ff8a00" opacity="0.75"/>
<rect x="329.2" y="192.1" width="1" height="1" fill="#ff8a00" opacity="0.75"/>
<rect x="252.3" y="183.3" width="1" height="1" fill="#ff8a00" opacity="0.75"/>
<rect x="316.4" y="191.5" width="1" height="1" fill="#ff8a00" opacity="0.75"/>
<rect x="259.9" y="192.4" width="1" height="1" fill="#ff8a00" opacity="0.75"/>
<rect x="333.0" y="184.8" width="1" height="1" fill="#ff8a00" opacity="0.75"/>
<rect x="250.3" y="212.6" width="1" height="1" fill="#ff8a00" opacity="0.75"/>
<rect x="259.9" y="190.1" width="1" height="1" fill="#ff8a00" opacity="0.75"/>
<rect x="341.7" y="185.9" width="1" height="1" fill="#ff8a00" opacity="0.75"/>
<rect x="251.0" y="210.1" width="1" height="1" fill="#ff8a00" opacity="0.75"/>
<rect x="256.0" y="183.5" width="1" height="1" fill="#ff8a00" opacity="0.75"/>
<rect x="334.7" y="183.9" width="1" height="1" fill="#ff8a00" opacity="0.75"/>
<rect x="328.3" y="188.0" width="1" height="1" fill="#ff8a00" opacity="0.75"/>
<rect x="259.1" y="183.3" width="1" height="1" fill="#ff8a00" opacity="0.75"/>
<rect x="278.5" y="197.0" width="1" height="1" fill="#ff8a00" opacity="0.75"/>
<rect x="265.5" y="194.9" width="1" height="1" fill="#ff8a00" opacity="0.75"/>
<rect x="258.8" y="208.1" width="1" height="1" fill="#ff8a00" opacity="0.75"/>
<rect x="334.0" y="204.7" width="1" height="1" fill="#ff8a00" opacity="0.75"/>
<rect x="314.8" y="177.5" width="1" height="1" fill="#ff8a00" opacity="0.75"/>
<rect x="256.3" y="182.8" width="1" height="1" fill="#ff8a00" opacity="0.75"/>
<rect x="252.6" y="213.3" width="1" height="1" fill="#ff8a00" opacity="0.75"/>
<rect x="329.0" y="211.2" width="1" height="1" fill="#ff8a00" opacity="0.75"/>
<rect x="280.2" y="179.3" width="1" height="1" fill="#ff8a00" opacity="0.75"/>
<rect x="267.8" y="176.9" width="1" height="1" fill="#ff8a00" opacity="0.75"/>
<rect x="328.9" y="185.3" width="1" height="1" fill="#ff8a00" opacity="0.75"/>
<rect x="258.3" y="212.4" width="1" height="1" fill="#ff8a00" opacity="0.75"/>
<rect x="254.2" y="211.5" width="1" height="1" fill="#ff8a00" opacity="0.75"/>
<rect x="259.6" y="201.2" width="1" height="1" fill="#ff8a00" opacity="0.75"/>
<rect x="251.4" y="210.5" width="1" height="1" fill="#ff8a00" opacity="0.75"/>
<rect x="265.6" y="188.5" width="1" height="1" fill="#ff8a00" opacity="0.75"/>
<rect x="291.4" y="198.4" width="1" height="1" fill="#ff8a00" opacity="0.75"/>
<rect x="256.3" y="179.7" width="1" height="1" fill="#ff8a00" opacity="0.75"/>
<rect x="282.1" y="175.7" width="1" height="1" fill="#ff8a00" opacity="0.75"/>
<rect x="323.2" y="188.4" width="1" height="1" fill="#ff8a00" opacity="0.75"/>
<rect x="253.1" y="187.8" width="1" height="1" fill="#ff8a00" opacity="0.75"/>
<rect x="251.5" y="187.3" width="1" height="1" fill="#ff8a00" opacity="0.75"/>
<rect x="278.6" y="190.9" width="1" height="1" fill="#ff8a00" opacity="0.75"/>
<rect x="261.0" y="186.3" width="1" height="1" fill="#ff8a00" opacity="0.75"/>
<rect x="273.0" y="205.8" width="1" height="1" fill="#ff8a00" opacity="0.75"/>
<rect x="268.7" y="205.3" width="1" height="1" fill="#ff8a00" opacity="0.75"/>
<rect x="272.7" y="179.5" width="1" height="1" fill="#ff8a00" opacity="0.75"/>
<rect x="253.1" y="208.5" width="1" height="1" fill="#ff8a00" opacity="0.75"/>
<rect x="272.4" y="190.0" width="1" height="1" fill="#ff8a00" opacity="0.75"/>
<rect x="275.8" y="208.5" width="1" height="1" fill="#ff8a00" opacity="0.75"/>
<rect x="263.8" y="189.1" width="1" height="1" fill="#ff8a00" opacity="0.75"/>
<rect x="263.2" y="175.1" width="1" height="1" fill="#ff8a00" opacity="0.75"/>
<rect x="278.8" y="193.8" width="1" height="1" fill="#ff8a00" opacity="0.75"/>
<rect x="273.9" y="192.7" width="1" height="1" fill="#ff8a00" opacity="0.75"/>
<rect x="271.7" y="203.2" width="1" height="1" fill="#ff8a00" opacity="0.75"/>
<rect x="253.6" y="213.9" width="1" height="1" fill="#ff8a00" opacity="0.75"/>
<rect x="251.6" y="209.3" width="1" height="1" fill="#ff8a00" opacity="0.75"/>
<rect x="253.2" y="206.4" width="1" height="1" fill="#ff8a00" opacity="0.75"/>
<rect x="256.8" y="177.8" width="1" height="1" fill="#ff8a00" opacity="0.75"/>
<rect x="278.4" y="208.2" width="1" height="1" fill="#ff8a00" opacity="0.75"/>
<rect x="318.9" y="209.7" width="1" height="1" fill="#ff8a00" opacity="0.75"/>
<rect x="342.4" y="176.8" width="1" height="1" fill="#ff8a00" opacity="0.75"/>
<rect x="264.1" y="179.0" width="1" height="1" fill="#ff8a00" opacity="0.75"/>
<rect x="305.0" y="192.7" width="1" height="1" fill="#ff8a00" opacity="0.75"/>
<rect x="303.4" y="206.4" width="1" height="1" fill="#ff8a00" opacity="0.75"/>
<rect x="346.1" y="201.7" width="1" height="1" fill="#ff8a00" opacity="0.75"/>
<rect x="323.8" y="196.6" width="1" height="1" fill="#ff8a00" opacity="0.75"/>
<rect x="250.9" y="210.3" width="1" height="1" fill="#ff8a00" opacity="0.75"/>
<rect x="251.1" y="178.1" width="1" height="1" fill="#ff8a00" opacity="0.75"/>
<rect x="316.5" y="185.9" width="1" height="1" fill="#ff8a00" opacity="0.75"/>
<rect x="292.4" y="175.8" width="1" height="1" fill="#ff8a00" opacity="0.75"/>
<rect x="254.6" y="203.3" width="1" height="1" fill="#ff8a00" opacity="0.75"/>
<rect x="250.4" y="195.1" width="1" height="1" fill="#ff8a00" opacity="0.75"/>
<rect x="334.7" y="183.3" width="1" height="1" fill="#ff8a00" opacity="0.75"/>
<rect x="298.0" y="204.4" width="1" height="1" fill="#ff8a00" opacity="0.75"/>
<rect x="287.2" y="205.3" width="1" height="1" fill="#ff8a00" opacity="0.75"/>
<rect x="297.1" y="175.3" width="1" height="1" fill="#ff8a00" opacity="0.75"/>
<rect x="253.8" y="196.1" width="1" height="1" fill="#ff8a00" opacity="0.75"/>
<rect x="340.6" y="183.4" width="1" height="1" fill="#ff8a00" opacity="0.75"/>
<rect x="283.4" y="179.8" width="1" height="1" fill="#ff8a00" opacity="0.75"/>
<rect x="319.1" y="192.5" width="1" height="1" fill="#ff8a00" opacity="0.75"/>
<rect x="276.5" y="201.4" width="1" height="1" fill="#ff8a00" opacity="0.75"/>
<rect x="252.1" y="203.8" width="1" height="1" fill="#ff8a00" opacity="0.75"/>
<rect x="311.7" y="209.0" width="1" height="1" fill="#ff8a00" opacity="0.75"/>
<rect x="257.9" y="184.0" width="1" height="1" fill="#ff8a00" opacity="0.75"/>
<rect x="252.9" y="210.6" width="1" height="1" fill="#ff8a00" opacity="0.75"/>
<rect x="268.7" y="190.3" width="1" height="1" fill="#ff8a00" opacity="0.75"/>
<rect x="276.3" y="202.6" width="1" height="1" fill="#ff8a00" opacity="0.75"/>
<rect x="260.0" y="188.1" width="1" height="1" fill="#ff8a00" opacity="0.75"/>
<rect x="306.7" y="205.7" width="1" height="1" fill="#ff8a00" opacity="0.75"/>
<rect x="258.7" y="177.6" width="1" height="1" fill="#ff8a00" opacity="0.75"/>
<rect x="333.0" y="203.8" width="1" height="1" fill="#ff8a00" opacity="0.75"/>
<rect x="284.2" y="190.8" width="1" height="1" fill="#ff8a00" opacity="0.75"/>
<rect x="338.6" y="191.9" width="1" height="1" fill="#ff8a00" opacity="0.75"/>
<rect x="254.8" y="178.7" width="1" height="1" fill="#ff8a00" opacity="0.75"/>
<rect x="262.1" y="198.7" width="1" height="1" fill="#ff8a00" opacity="0.75"/>
<rect x="263.1" y="212.5" width="1" height="1" fill="#ff8a00" opacity="0.75"/>
<rect x="290.8" y="193.0" width="1" height="1" fill="#ff8a00" opacity="0.75"/>
<rect x="292.2" y="198.7" width="1" height="1" fill="#ff8a00" opacity="0.75"/>
<rect x="286.9" y="194.5" width="1" height="1" fill="#ff8a00" opacity="0.75"/>
<rect x="276.6" y="194.3" width="1" height="1" fill="#ff8a00" opacity="0.75"/>
<rect x="316.7" y="182.4" width="1" height="1" fill="#ff8a00" opacity="0.75"/>
<rect x="309.5" y="186.6" width="1" height="1" fill="#ff8a00" opacity="0.75"/>
<rect x="319.5" y="177.6" width="1" height="1" fill="#ff8a00" opacity="0.75"/>
<rect x="272.9" y="192.4" width="1" height="1" fill="#ff8a00" opacity="0.75"/>
<rect x="298.9" y="182.8" width="1" height="1" fill="#ff8a00" opacity="0.75"/>
<rect x="256.9" y="180.0" width="1" height="1" fill="#ff8a00" opacity="0.75"/>
<rect x="280.6" y="197.7" width="1" height="1" fill="#ff8a00" opacity="0.75"/>
<rect x="250.3" y="181.8" width="1" height="1" fill="#ff8a00" opacity="0.75"/>
<rect x="254.1" y="212.9" width="1" height="1" fill="#ff8a00" opacity="0.75"/>
<rect x="270.2" y="197.3" width="1" height="1" fill="#ff8a00" opacity="0.75"/>
<rect x="258.4" y="201.0" width="1" height="1" fill="#ff8a00" opacity="0.75"/>
<rect x="313.7" y="201.5" width="1" height="1" fill="#ff8a00" opacity="0.75"/>
<rect x="250.3" y="192.2" width="1" height="1" fill="#ff8a00" opacity="0.75"/>
<rect x="273.2" y="176.5" width="1" height="1" fill="#ff8a00" opacity="0.75"/>
<rect x="310.2" y="187.4" width="1" height="1" fill="#ff8a00" opacity="0.75"/>
<rect x="258.6" y="199.6" width="1" height="1" fill="#ff8a00" opacity="0.75"/>
<rect x="283.1" y="194.5" width="1" height="1" fill="#ff8a00" opacity="0.75"/>
<rect x="321.2" y="195.4" width="1" height="1" fill="#ff8a00" opacity="0.75"/>
<rect x="261.6" y="177.3" width="1" height="1" fill="#ff8a00" opacity="0.75"/>
<rect x="279.6" y="189.2" width="1" height="1" fill="#ff8a00" opacity="0.75"/>
<rect x="277.9" y="188.6" width="1" height="1" fill="#ff8a00" opacity="0.75"/>
<rect x="250.3" y="176.2" width="1" height="1" fill="#ff8a00" opacity="0.75"/>
<rect x="252.7" y="178.4" width="1" height="1" fill="#ff8a00" opacity="0.75"/>
<rect x="319.9" y="197.9" width="1" height="1" fill="#ff8a00" opacity="0.75"/>
<rect x="255.8" y="203.1" width="1" height="1" fill="#ff8a00" opacity="0.75"/>
<rect x="288.9" y="177.2" width="1" height="1" fill="#ff8a00" opacity="0.75"/>
<rect x="304.5" y="183.8" width="1" height="1" fill="#ff8a00" opacity="0.75"/>
<rect x="345.8" y="180.4" width="1" height="1" fill="#ff8a00" opacity="0.75"/>
<rect x="258.1" y="184.6" width="1" height="1" fill="#ff8a00" opacity="0.75"/>
<rect x="321.7" y="207.4" width="1" height="1" fill="#ff8a00" opacity="0.75"/>
<rect x="282.5" y="180.6" width="1" height="1" fill="#ff8a00" opacity="0.75"/>
<rect x="267.9" y="202.7" width="1" height="1" fill="#ff8a00" opacity="0.75"/>
<rect x="250.6" y="211.4" width="1" height="1" fill="#ff8a00" opacity="0.75"/>
<rect x="318.3" y="211.9" width="1" height="1" fill="#ff8a00" opacity="0.75"/>
<rect x="297.2" y="199.3" width="1" height="1" fill="#ff8a00" opacity="0.75"/>
<rect x="341.6" y="185.3" width="1" height="1" fill="#ff8a00" opacity="0.75"/>
<rect x="259.3" y="179.6" width="1" height="1" fill="#ff8a00" opacity="0.75"/>
<rect x="253.4" y="206.6" width="1" height="1" fill="#ff8a00" opacity="0.75"/>
<rect x="251.2" y="204.4" width="1" height="1" fill="#ff8a00" opacity="0.75"/>
<rect x="265.4" y="209.7" width="1" height="1" fill="#ff8a00" opacity="0.75"/>
<rect x="305.7" y="202.1" width="1" height="1" fill="#ff8a00" opacity="0.75"/>
<rect x="318.8" y="176.4" width="1" height="1" fill="#ff8a00" opacity="0.75"/>
<rect x="257.1" y="189.4" width="1" height="1" fill="#ff8a00" opacity="0.75"/>
<rect x="268.0" y="201.4" width="1" height="1" fill="#ff8a00" opacity="0.75"/>
<rect x="324.5" y="204.2" width="1" height="1" fill="#ff8a00" opacity="0.75"/>
<rect x="333.1" y="202.5" width="1" height="1" fill="#ff8a00" opacity="0.75"/>
<rect x="262.5" y="195.0" width="1" height="1" fill="#ff8a00" opacity="0.75"/>
<rect x="304.1" y="207.2" width="1" height="1" fill="#ff8a00" opacity="0.75"/>
<rect x="263.4" y="188.9" width="1" height="1" fill="#ff8a00" opacity="0.75"/>
<rect x="286.6" y="183.8" width="1" height="1" fill="#ff8a00" opacity="0.75"/>
<rect x="325.1" y="174.7" width="1" height="1" fill="#ff8a00" opacity="0.75"/>
<rect x="290.7" y="194.1" width="1" height="1" fill="#ff8a00" opacity="0.75"/>
<rect x="254.0" y="197.5" width="1" height="1" fill="#ff8a00" opacity="0.75"/>
<rect x="271.9" y="213.1" width="1" height="1" fill="#ff8a00" opacity="0.75"/>
<rect x="325.4" y="198.1" width="1" height="1" fill="#ff8a00" opacity="0.75"/>
<rect x="323.2" y="210.0" width="1" height="1" fill="#ff8a00" opacity="0.75"/>
<rect x="252.9" y="207.7" width="1" height="1" fill="#ff8a00" opacity="0.75"/>
<rect x="317.0" y="214.2" width="1" height="1" fill="#ff8a00" opacity="0.75"/>
<rect x="305.7" y="190.3" width="1" height="1" fill="#ff8a00" opacity="0.75"/>
<rect x="254.4" y="200.7" width="1" height="1" fill="#ff8a00" opacity="0.75"/>
<rect x="254.6" y="204.9" width="1" height="1" fill="#ff8a00" opacity="0.75"/>
<rect x="282.0" y="207.6" width="1" height="1" fill="#ff8a00" opacity="0.75"/>
<rect x="262.5" y="186.8" width="1" height="1" fill="#ff8a00" opacity="0.75"/>
<rect x="328.8" y="201.1" width="1" height="1" fill="#ff8a00" opacity="0.75"/>
<rect x="264.0" y="197.1" width="1" height="1" fill="#ff8a00" opacity="0.75"/>
<rect x="268.5" y="200.4" width="1" height="1" fill="#ff8a00" opacity="0.75"/>
<rect x="275.9" y="186.1" width="1" height="1" fill="#ff8a00" opacity="0.75"/>
<rect x="342.4" y="210.0" width="1" height="1" fill="#ff8a00" opacity="0.75"/>
<rect x="305.6" y="185.8" width="1" height="1" fill="#ff8a00" opacity="0.75"/>
<rect x="253.9" y="203.9" width="1" height="1" fill="#ff8a00" opacity="0.75"/>
<rect x="315.2" y="200.7" width="1" height="1" fill="#ff8a00" opacity="0.75"/>
<rect x="251.2" y="203.4" width="1" height="1" fill="#ff7814" opacity="0.8"/>
<rect x="252.4" y="189.6" width="1" height="1" fill="#ff7814" opacity="0.8"/>
<rect x="252.7" y="192.6" width="1" height="1" fill="#ff7814" opacity="0.8"/>
<rect x="252.9" y="204.7" width="1" height="1" fill="#ff7814" opacity="0.8"/>
<rect x="254.2" y="179.1" width="1" height="1" fill="#ff7814" opacity="0.8"/>
<rect x="252.6" y="212.4" width="1" height="1" fill="#ff7814" opacity="0.8"/>
<rect x="252.9" y="197.8" width="1" height="1" fill="#ff7814" opacity="0.8"/>
<rect x="253.7" y="176.0" width="1" height="1" fill="#ff7814" opacity="0.8"/>
<rect x="253.5" y="199.6" width="1" height="1" fill="#ff7814" opacity="0.8"/>
<rect x="252.6" y="187.1" width="1" height="1" fill="#ff7814" opacity="0.8"/>
<rect x="252.8" y="179.7" width="1" height="1" fill="#ff7814" opacity="0.8"/>
<rect x="252.4" y="185.0" width="1" height="1" fill="#ff7814" opacity="0.8"/>
<rect x="254.0" y="206.8" width="1" height="1" fill="#ff7814" opacity="0.8"/>
<rect x="252.2" y="204.8" width="1" height="1" fill="#ff7814" opacity="0.8"/>
<rect x="251.8" y="195.6" width="1" height="1" fill="#ff7814" opacity="0.8"/>
<rect x="250.9" y="208.9" width="1" height="1" fill="#ff7814" opacity="0.8"/>
<rect x="253.4" y="205.0" width="1" height="1" fill="#ff7814" opacity="0.8"/>
<rect x="250.6" y="207.4" width="1" height="1" fill="#ff7814" opacity="0.8"/>
<rect x="250.3" y="197.2" width="1" height="1" fill="#ff7814" opacity="0.8"/>
<rect x="252.3" y="177.1" width="1" height="1" fill="#ff7814" opacity="0.8"/>
<rect x="252.0" y="210.1" width="1" height="1" fill="#ff7814" opacity="0.8"/>
<rect x="252.8" y="187.2" width="1" height="1" fill="#ff7814" opacity="0.8"/>
<rect x="253.6" y="188.9" width="1" height="1" fill="#ff7814" opacity="0.8"/>
<rect x="253.9" y="190.7" width="1" height="1" fill="#ff7814" opacity="0.8"/>
<rect x="250.6" y="213.5" width="1" height="1" fill="#ff7814" opacity="0.8"/>
<rect x="250.6" y="184.8" width="1" height="1" fill="#ff7814" opacity="0.8"/>
<rect x="253.4" y="179.3" width="1" height="1" fill="#ff7814" opacity="0.8"/>
<rect x="252.5" y="209.0" width="1" height="1" fill="#ff7814" opacity="0.8"/>
<rect x="252.7" y="188.6" width="1" height="1" fill="#ff7814" opacity="0.8"/>
<rect x="253.3" y="207.6" width="1" height="1" fill="#ff7814" opacity="0.8"/>
<rect x="246.7" y="199.7" width="1" height="1" fill="#ff4410" opacity="0.8"/>
<rect x="246.1" y="191.0" width="1" height="1" fill="#ff4410" opacity="0.8"/>
<rect x="247.8" y="213.5" width="1" height="1" fill="#ff4410" opacity="0.8"/>
<rect x="245.3" y="182.5" width="1" height="1" fill="#ff4410" opacity="0.8"/>
<rect x="245.9" y="206.3" width="1" height="1" fill="#ff4410" opacity="0.8"/>
<rect x="245.8" y="181.5" width="1" height="1" fill="#ff4410" opacity="0.8"/>
<rect x="247.2" y="181.4" width="1" height="1" fill="#ff4410" opacity="0.8"/>
<rect x="247.7" y="192.9" width="1" height="1" fill="#ff4410" opacity="0.8"/>
<rect x="247.5" y="207.4" width="1" height="1" fill="#ff4410" opacity="0.8"/>
<rect x="245.8" y="206.0" width="1" height="1" fill="#ff4410" opacity="0.8"/>
<rect x="246.3" y="183.6" width="1" height="1" fill="#ff4410" opacity="0.8"/>
<rect x="245.4" y="202.8" width="1" height="1" fill="#ff4410" opacity="0.8"/>
<rect x="246.7" y="186.8" width="1" height="1" fill="#ff4410" opacity="0.8"/>
<rect x="247.4" y="182.6" width="1" height="1" fill="#ff4410" opacity="0.8"/>
<rect x="246.4" y="178.2" width="1" height="1" fill="#ff4410" opacity="0.8"/>
<rect x="246.2" y="210.0" width="1" height="1" fill="#ff4410" opacity="0.8"/>
<rect x="246.6" y="180.8" width="1" height="1" fill="#ff4410" opacity="0.8"/>
<rect x="245.9" y="200.4" width="1" height="1" fill="#ff4410" opacity="0.8"/>
<rect x="246.0" y="210.1" width="1" height="1" fill="#ff4410" opacity="0.8"/>
<rect x="245.5" y="209.4" width="1" height="1" fill="#ff4410" opacity="0.8"/>
</g>
<rect x="237.3" y="172.7" width="109.5" height="1.5" fill="#ffe000" opacity="0.8"/>
<rect x="237.3" y="215.0" width="109.5" height="1.6" fill="#ffe000" opacity="0.8"/>
</g>
<rect x="237.3" y="172.7" width="109.5" height="43.900000000000006" fill="none" stroke="#505050" stroke-width="0.45" stroke-opacity="0.85"/>
<text x="237.30" y="223.0" font-size="5.3" text-anchor="middle">0</text>
<rect x="258.90" y="215.29999999999998" width="0.6" height="1.3" fill="#222"/>
<text x="259.20" y="223.0" font-size="5.3" text-anchor="middle">1</text>
<rect x="280.80" y="215.29999999999998" width="0.6" height="1.3" fill="#222"/>
<text x="281.10" y="223.0" font-size="5.3" text-anchor="middle">2</text>
<rect x="302.70" y="215.29999999999998" width="0.6" height="1.3" fill="#222"/>
<text x="303.00" y="223.0" font-size="5.3" text-anchor="middle">3</text>
<rect x="324.60" y="215.29999999999998" width="0.6" height="1.3" fill="#222"/>
<text x="324.90" y="223.0" font-size="5.3" text-anchor="middle">4</text>
<text x="346.80" y="223.0" font-size="5.3" text-anchor="middle">5</text>
<text x="236.10000000000002" y="218.20" font-size="5.3" text-anchor="end">0</text>
<rect x="237.3" y="194.35" width="1.3" height="0.6" fill="#222"/>
<text x="236.10000000000002" y="196.25" font-size="5.3" text-anchor="end">1</text>
<text x="236.10000000000002" y="174.30" font-size="5.3" text-anchor="end">2</text>
<text transform="translate(232.70000000000002,194.64999999999998) rotate(-90)" font-size="6" text-anchor="middle"><tspan font-style="italic">y</tspan>/mm</text>
<text x="292.7" y="229.6" font-size="6" text-anchor="middle"><tspan font-style="italic">x</tspan>/mm</text>
<text x="287.9" y="237.0" font-size="6.2" text-anchor="middle" stroke="#111" stroke-width="0.12">(f) 25 ns ion density</text>
<text x="149.7" y="249.8" font-size="7.5" font-weight="bold" textLength="165" lengthAdjust="spacingAndGlyphs" style="fill:#000">Distribution of gap ion density at different moments</text>
</svg></body></html>
